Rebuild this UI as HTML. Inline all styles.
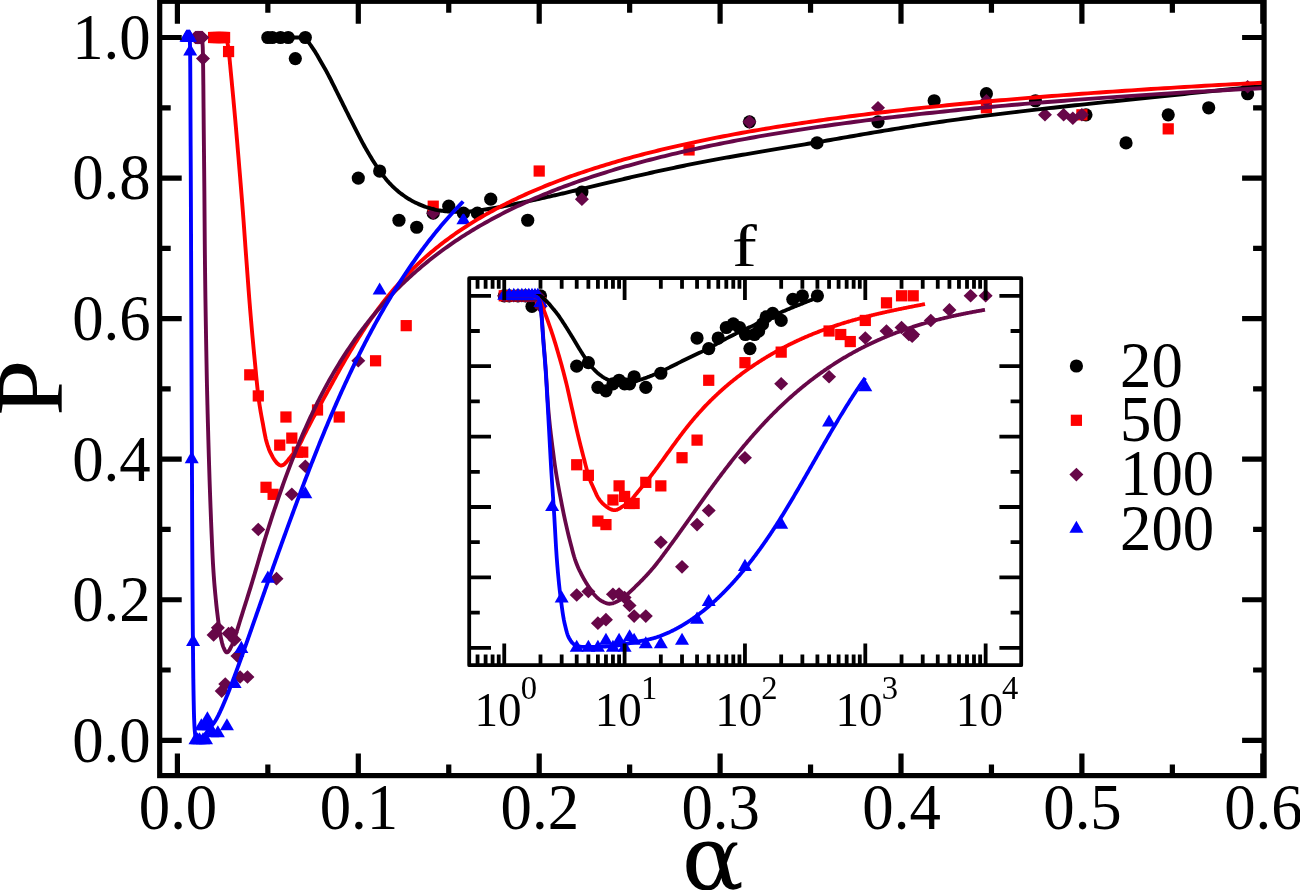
<!DOCTYPE html>
<html><head><meta charset="utf-8"><title>P vs alpha</title>
<style>html,body{margin:0;padding:0;background:#fff;overflow:hidden}svg{display:block}</style>
</head><body>
<svg width="1300" height="890" viewBox="0 0 1300 890">
<rect x="0" y="0" width="1300" height="890" fill="#ffffff"/>
<g fill="#000000"><circle cx="267.85" cy="37.50" r="6.60"/><circle cx="272.26" cy="37.50" r="6.60"/><circle cx="280.53" cy="37.50" r="6.60"/><circle cx="288.18" cy="37.50" r="6.60"/><circle cx="295.33" cy="58.58" r="6.60"/><circle cx="305.32" cy="37.50" r="6.60"/><circle cx="358.30" cy="178.06" r="6.60"/><circle cx="379.65" cy="171.03" r="6.60"/><circle cx="398.96" cy="220.23" r="6.60"/><circle cx="416.71" cy="227.26" r="6.60"/><circle cx="433.23" cy="213.20" r="6.60"/><circle cx="448.75" cy="206.17" r="6.60"/><circle cx="463.43" cy="213.20" r="6.60"/><circle cx="477.39" cy="213.20" r="6.60"/><circle cx="490.73" cy="199.14" r="6.60"/><circle cx="527.71" cy="220.23" r="6.60"/><circle cx="581.90" cy="192.12" r="6.60"/><circle cx="749.46" cy="121.84" r="6.60"/><circle cx="816.98" cy="142.92" r="6.60"/><circle cx="878.02" cy="121.84" r="6.60"/><circle cx="934.16" cy="100.75" r="6.60"/><circle cx="986.41" cy="93.72" r="6.60"/><circle cx="1035.48" cy="100.75" r="6.60"/><circle cx="1085.96" cy="114.81" r="6.60"/><circle cx="1126.05" cy="142.92" r="6.60"/><circle cx="1168.23" cy="114.81" r="6.60"/><circle cx="1208.69" cy="107.78" r="6.60"/><circle cx="1247.62" cy="93.72" r="6.60"/></g>
<g fill="#ff0000"><rect x="207.97" y="31.89" width="11.22" height="11.22"/><rect x="209.74" y="31.89" width="11.22" height="11.22"/><rect x="211.42" y="31.89" width="11.22" height="11.22"/><rect x="213.04" y="31.89" width="11.22" height="11.22"/><rect x="214.60" y="31.89" width="11.22" height="11.22"/><rect x="216.10" y="31.89" width="11.22" height="11.22"/><rect x="217.55" y="31.89" width="11.22" height="11.22"/><rect x="218.96" y="31.89" width="11.22" height="11.22"/><rect x="222.96" y="45.95" width="11.22" height="11.22"/><rect x="244.15" y="369.23" width="11.22" height="11.22"/><rect x="252.69" y="390.32" width="11.22" height="11.22"/><rect x="260.41" y="481.68" width="11.22" height="11.22"/><rect x="267.51" y="488.71" width="11.22" height="11.22"/><rect x="274.12" y="439.51" width="11.22" height="11.22"/><rect x="280.33" y="411.40" width="11.22" height="11.22"/><rect x="286.20" y="432.49" width="11.22" height="11.22"/><rect x="291.79" y="446.54" width="11.22" height="11.22"/><rect x="297.12" y="446.54" width="11.22" height="11.22"/><rect x="311.91" y="404.37" width="11.22" height="11.22"/><rect x="333.59" y="411.40" width="11.22" height="11.22"/><rect x="369.96" y="355.18" width="11.22" height="11.22"/><rect x="400.61" y="320.04" width="11.22" height="11.22"/><rect x="427.62" y="200.56" width="11.22" height="11.22"/><rect x="533.59" y="165.42" width="11.22" height="11.22"/><rect x="683.45" y="144.34" width="11.22" height="11.22"/><rect x="980.80" y="102.17" width="11.22" height="11.22"/><rect x="1076.29" y="109.20" width="11.22" height="11.22"/><rect x="1162.62" y="123.25" width="11.22" height="11.22"/></g>
<g fill="#670748"><path d="M188.49 37.50 L195.49 30.70 L202.49 37.50 L195.49 44.30Z"/><path d="M189.37 37.50 L196.37 30.70 L203.37 37.50 L196.37 44.30Z"/><path d="M190.22 37.50 L197.22 30.70 L204.22 37.50 L197.22 44.30Z"/><path d="M191.03 37.50 L198.03 30.70 L205.03 37.50 L198.03 44.30Z"/><path d="M191.80 37.50 L198.80 30.70 L205.80 37.50 L198.80 44.30Z"/><path d="M192.56 37.50 L199.56 30.70 L206.56 37.50 L199.56 44.30Z"/><path d="M193.28 37.50 L200.28 30.70 L207.28 37.50 L200.28 44.30Z"/><path d="M193.99 37.50 L200.99 30.70 L207.99 37.50 L200.99 44.30Z"/><path d="M194.67 37.50 L201.67 30.70 L208.67 37.50 L201.67 44.30Z"/><path d="M195.34 37.50 L202.34 30.70 L209.34 37.50 L202.34 44.30Z"/><path d="M195.98 58.58 L202.98 51.78 L209.98 58.58 L202.98 65.38Z"/><path d="M206.58 634.88 L213.58 628.08 L220.58 634.88 L213.58 641.68Z"/><path d="M210.85 627.85 L217.85 621.05 L224.85 627.85 L217.85 634.65Z"/><path d="M214.71 691.10 L221.71 684.30 L228.71 691.10 L221.71 697.90Z"/><path d="M218.26 684.08 L225.26 677.28 L232.26 684.08 L225.26 690.88Z"/><path d="M221.57 633.47 L228.57 626.67 L235.57 633.47 L228.57 640.27Z"/><path d="M224.67 632.77 L231.67 625.97 L238.67 632.77 L231.67 639.57Z"/><path d="M227.61 639.80 L234.61 633.00 L241.61 639.80 L234.61 646.60Z"/><path d="M230.40 655.96 L237.40 649.16 L244.40 655.96 L237.40 662.76Z"/><path d="M233.07 677.05 L240.07 670.25 L247.07 677.05 L240.07 683.85Z"/><path d="M240.46 677.05 L247.46 670.25 L254.46 677.05 L247.46 683.85Z"/><path d="M251.30 529.46 L258.30 522.66 L265.30 529.46 L258.30 536.26Z"/><path d="M269.48 578.66 L276.48 571.86 L283.48 578.66 L276.48 585.46Z"/><path d="M284.81 494.32 L291.81 487.52 L298.81 494.32 L291.81 501.12Z"/><path d="M298.32 466.21 L305.32 459.41 L312.32 466.21 L305.32 473.01Z"/><path d="M351.30 360.79 L358.30 353.99 L365.30 360.79 L358.30 367.59Z"/><path d="M426.23 213.20 L433.23 206.40 L440.23 213.20 L433.23 220.00Z"/><path d="M574.90 199.14 L581.90 192.34 L588.90 199.14 L581.90 205.94Z"/><path d="M742.46 121.84 L749.46 115.04 L756.46 121.84 L749.46 128.64Z"/><path d="M871.02 107.78 L878.02 100.98 L885.02 107.78 L878.02 114.58Z"/><path d="M979.41 100.75 L986.41 93.95 L993.41 100.75 L986.41 107.55Z"/><path d="M1037.97 114.81 L1044.97 108.01 L1051.97 114.81 L1044.97 121.61Z"/><path d="M1056.63 114.81 L1063.63 108.01 L1070.63 114.81 L1063.63 121.61Z"/><path d="M1065.81 118.32 L1072.81 111.52 L1079.81 118.32 L1072.81 125.12Z"/><path d="M1074.90 114.81 L1081.90 108.01 L1088.90 114.81 L1081.90 121.61Z"/><path d="M1240.62 86.70 L1247.62 79.90 L1254.62 86.70 L1247.62 93.50Z"/></g>
<g fill="#0000ff"><path d="M186.44 29.42 L179.44 41.54 L193.44 41.54Z"/><path d="M186.89 29.42 L179.89 41.54 L193.89 41.54Z"/><path d="M187.31 29.42 L180.31 41.54 L194.31 41.54Z"/><path d="M187.71 29.42 L180.71 41.54 L194.71 41.54Z"/><path d="M188.10 29.42 L181.10 41.54 L195.10 41.54Z"/><path d="M188.48 29.42 L181.48 41.54 L195.48 41.54Z"/><path d="M188.84 29.42 L181.84 41.54 L195.84 41.54Z"/><path d="M189.19 29.42 L182.19 41.54 L196.19 41.54Z"/><path d="M189.54 29.42 L182.54 41.54 L196.54 41.54Z"/><path d="M189.87 29.42 L182.87 41.54 L196.87 41.54Z"/><path d="M190.19 43.47 L183.19 55.60 L197.19 55.60Z"/><path d="M191.70 451.10 L184.70 463.22 L198.70 463.22Z"/><path d="M193.07 633.83 L186.07 645.95 L200.07 645.95Z"/><path d="M195.49 732.22 L188.49 744.34 L202.49 744.34Z"/><path d="M197.63 732.22 L190.63 744.34 L204.63 744.34Z"/><path d="M199.56 732.22 L192.56 744.34 L206.56 744.34Z"/><path d="M201.33 718.16 L194.33 730.29 L208.33 730.29Z"/><path d="M202.98 732.22 L195.98 744.34 L209.98 744.34Z"/><path d="M204.53 718.16 L197.53 730.29 L211.53 730.29Z"/><path d="M206.00 732.22 L199.00 744.34 L213.00 744.34Z"/><path d="M207.40 711.13 L200.40 723.26 L214.40 723.26Z"/><path d="M208.73 718.16 L201.73 730.29 L215.73 730.29Z"/><path d="M212.43 725.19 L205.43 737.31 L219.43 737.31Z"/><path d="M217.85 725.19 L210.85 737.31 L224.85 737.31Z"/><path d="M226.94 718.16 L219.94 730.29 L233.94 730.29Z"/><path d="M234.61 675.99 L227.61 688.12 L241.61 688.12Z"/><path d="M241.36 640.85 L234.36 652.98 L248.36 652.98Z"/><path d="M267.85 570.57 L260.85 582.70 L274.85 582.70Z"/><path d="M305.32 486.24 L298.32 498.36 L312.32 498.36Z"/><path d="M379.65 282.43 L372.65 294.55 L386.65 294.55Z"/><path d="M463.43 212.15 L456.43 224.27 L470.43 224.27Z"/></g>
<clipPath id="cm"><rect x="159.7" y="1.3" width="1104.4" height="774.3"/></clipPath>
<g clip-path="url(#cm)" fill="none" stroke-width="3.9" stroke-linejoin="round">
<path d="M267.90 37.50 L268.35 37.50 L268.81 37.50 L269.26 37.50 L269.72 37.50 L270.18 37.50 L270.64 37.50 L271.11 37.50 L271.58 37.50 L272.05 37.50 L272.52 37.50 L272.99 37.50 L273.47 37.50 L273.95 37.50 L274.43 37.50 L274.92 37.50 L275.40 37.50 L275.89 37.50 L276.38 37.50 L276.88 37.50 L277.37 37.50 L277.87 37.50 L278.37 37.50 L278.88 37.50 L279.38 37.50 L279.89 37.50 L280.40 37.50 L280.92 37.50 L281.44 37.50 L281.95 37.50 L282.48 37.50 L283.00 37.50 L283.53 37.50 L284.06 37.50 L284.59 37.50 L285.12 37.50 L285.66 37.50 L286.20 37.50 L286.74 37.50 L287.29 37.50 L287.84 37.50 L288.39 37.50 L288.94 37.50 L289.50 37.50 L290.06 37.50 L290.62 37.50 L291.19 37.50 L291.75 37.50 L292.33 37.50 L292.90 37.50 L293.48 37.50 L294.05 37.50 L294.64 37.50 L295.22 37.50 L295.81 37.50 L296.40 37.50 L296.99 37.50 L297.59 37.50 L298.19 37.50 L298.79 37.50 L299.40 37.50 L300.01 37.50 L300.62 37.50 L301.24 37.50 L301.85 37.50 L302.47 37.50 L303.10 37.50 L303.73 37.50 L304.36 37.55 L304.99 37.70 L305.63 38.25 L306.27 39.00 L306.91 39.79 L307.56 40.65 L308.21 41.58 L308.86 42.55 L309.51 43.52 L310.17 44.48 L310.84 45.42 L311.50 46.37 L312.17 47.33 L312.84 48.30 L313.52 49.29 L314.20 50.31 L314.88 51.37 L315.57 52.48 L316.26 53.63 L316.95 54.82 L317.65 56.04 L318.35 57.29 L319.05 58.54 L319.76 59.81 L320.47 61.07 L321.18 62.31 L321.90 63.55 L322.62 64.79 L323.34 66.03 L324.07 67.28 L324.80 68.54 L325.54 69.83 L326.28 71.15 L327.02 72.50 L327.77 73.89 L328.52 75.31 L329.27 76.76 L330.03 78.23 L330.79 79.73 L331.56 81.24 L332.33 82.78 L333.10 84.33 L333.88 85.89 L334.66 87.47 L335.44 89.06 L336.23 90.65 L337.02 92.25 L337.82 93.85 L338.62 95.46 L339.43 97.06 L340.23 98.66 L341.05 100.29 L341.86 101.94 L342.68 103.61 L343.51 105.28 L344.34 106.96 L345.17 108.64 L346.01 110.32 L346.85 112.00 L347.70 113.69 L348.54 115.38 L349.40 117.08 L350.26 118.78 L351.12 120.48 L351.99 122.19 L352.86 123.90 L353.73 125.63 L354.61 127.37 L355.50 129.12 L356.39 130.88 L357.28 132.63 L358.18 134.39 L359.08 136.15 L359.99 137.90 L360.90 139.64 L361.81 141.37 L362.73 143.08 L363.66 144.77 L364.59 146.45 L365.52 148.10 L366.46 149.74 L367.40 151.38 L368.35 153.01 L369.30 154.63 L370.26 156.24 L371.22 157.83 L372.19 159.41 L373.16 160.96 L374.14 162.50 L375.12 164.01 L376.11 165.50 L377.10 166.97 L378.10 168.41 L379.10 169.85 L380.11 171.28 L381.12 172.69 L382.13 174.09 L383.16 175.47 L384.18 176.83 L385.21 178.15 L386.25 179.44 L387.29 180.70 L388.34 181.90 L389.39 183.06 L390.45 184.17 L391.51 185.26 L392.58 186.32 L393.66 187.37 L394.74 188.38 L395.82 189.37 L396.91 190.33 L398.01 191.27 L399.11 192.17 L400.21 193.05 L401.33 193.89 L402.44 194.70 L403.57 195.49 L404.69 196.28 L405.83 197.05 L406.97 197.80 L408.11 198.54 L409.27 199.26 L410.42 199.95 L411.59 200.62 L412.75 201.26 L413.93 201.87 L415.11 202.45 L416.29 203.01 L417.49 203.57 L418.69 204.11 L419.89 204.64 L421.10 205.15 L422.32 205.65 L423.54 206.12 L424.77 206.57 L426.00 206.99 L427.24 207.38 L428.49 207.76 L429.74 208.13 L431.00 208.50 L432.27 208.86 L433.54 209.20 L434.82 209.52 L436.10 209.82 L437.39 210.09 L438.69 210.33 L439.99 210.53 L441.30 210.71 L442.62 210.90 L443.94 211.07 L445.27 211.23 L446.61 211.39 L447.95 211.52 L449.30 211.64 L450.66 211.73 L452.02 211.79 L453.39 211.84 L454.77 211.87 L456.16 211.90 L457.55 211.91 L458.94 211.91 L460.35 211.90 L461.76 211.87 L463.18 211.83 L464.61 211.77 L466.04 211.69 L467.48 211.59 L468.93 211.47 L470.38 211.33 L471.84 211.18 L473.31 211.02 L474.79 210.85 L476.28 210.68 L477.77 210.50 L479.27 210.32 L480.77 210.11 L482.29 209.90 L483.81 209.68 L485.34 209.45 L486.87 209.21 L488.42 208.97 L489.97 208.72 L491.53 208.46 L493.10 208.19 L494.67 207.92 L496.26 207.64 L497.85 207.35 L499.45 207.07 L501.05 206.77 L502.67 206.47 L504.29 206.17 L505.92 205.86 L507.56 205.54 L509.21 205.21 L510.86 204.89 L512.53 204.55 L514.20 204.21 L515.88 203.87 L517.57 203.52 L519.27 203.16 L520.97 202.80 L522.69 202.44 L524.41 202.08 L526.14 201.71 L527.88 201.33 L529.63 200.96 L531.39 200.58 L533.16 200.19 L534.93 199.80 L536.72 199.41 L538.51 199.01 L540.31 198.61 L542.12 198.21 L543.94 197.80 L545.77 197.39 L547.61 196.97 L549.46 196.55 L551.31 196.13 L553.18 195.70 L555.06 195.27 L556.94 194.83 L558.83 194.39 L560.74 193.95 L562.65 193.50 L564.57 193.05 L566.51 192.60 L568.45 192.14 L570.40 191.68 L572.36 191.21 L574.33 190.74 L576.31 190.27 L578.30 189.80 L580.30 189.32 L582.31 188.84 L584.33 188.36 L586.36 187.87 L588.41 187.38 L590.46 186.89 L592.52 186.40 L594.59 185.90 L596.67 185.41 L598.76 184.91 L600.87 184.41 L602.98 183.90 L605.10 183.40 L607.24 182.89 L609.38 182.38 L611.54 181.87 L613.70 181.35 L615.88 180.84 L618.07 180.33 L620.27 179.81 L622.48 179.29 L624.70 178.77 L626.93 178.25 L629.17 177.73 L631.43 177.21 L633.70 176.69 L635.97 176.17 L638.26 175.64 L640.56 175.12 L642.87 174.60 L645.19 174.07 L647.53 173.55 L649.87 173.02 L652.23 172.50 L654.60 171.97 L656.98 171.45 L659.38 170.93 L661.78 170.40 L664.20 169.88 L666.63 169.36 L669.07 168.84 L671.52 168.31 L673.99 167.79 L676.47 167.28 L678.96 166.76 L681.46 166.24 L683.98 165.72 L686.50 165.21 L689.04 164.70 L691.60 164.19 L694.16 163.68 L696.74 163.17 L699.33 162.66 L701.94 162.16 L704.56 161.65 L707.19 161.15 L709.83 160.65 L712.49 160.16 L715.16 159.66 L717.84 159.17 L720.54 158.68 L723.25 158.19 L725.97 157.70 L728.71 157.21 L731.46 156.73 L734.23 156.24 L737.00 155.76 L739.80 155.27 L742.60 154.79 L745.42 154.30 L748.26 153.82 L751.11 153.33 L753.97 152.85 L756.85 152.36 L759.74 151.87 L762.64 151.38 L765.57 150.89 L768.50 150.40 L771.45 149.91 L774.41 149.41 L777.39 148.92 L780.39 148.42 L783.40 147.92 L786.42 147.41 L789.46 146.90 L792.51 146.39 L795.58 145.88 L798.67 145.36 L801.77 144.84 L804.89 144.32 L808.02 143.79 L811.16 143.26 L814.33 142.72 L817.50 142.18 L820.70 141.63 L823.91 141.08 L827.14 140.53 L830.38 139.97 L833.64 139.40 L836.91 138.84 L840.20 138.27 L843.51 137.69 L846.83 137.12 L850.17 136.54 L853.53 135.96 L856.91 135.37 L860.30 134.79 L863.70 134.20 L867.13 133.61 L870.57 133.03 L874.03 132.44 L877.51 131.85 L881.00 131.26 L884.51 130.67 L888.04 130.08 L891.59 129.49 L895.15 128.90 L898.73 128.32 L902.33 127.73 L905.95 127.15 L909.58 126.57 L913.24 125.99 L916.91 125.42 L920.60 124.84 L924.31 124.27 L928.04 123.71 L931.78 123.15 L935.55 122.59 L939.33 122.03 L943.13 121.48 L946.95 120.93 L950.79 120.39 L954.65 119.85 L958.53 119.31 L962.43 118.78 L966.35 118.25 L970.28 117.72 L974.24 117.19 L978.22 116.67 L982.21 116.15 L986.23 115.64 L990.27 115.12 L994.32 114.61 L998.40 114.11 L1002.50 113.60 L1006.61 113.10 L1010.75 112.60 L1014.91 112.10 L1019.09 111.60 L1023.29 111.11 L1027.51 110.62 L1031.75 110.13 L1036.02 109.64 L1040.30 109.15 L1044.61 108.67 L1048.93 108.18 L1053.28 107.70 L1057.65 107.22 L1062.05 106.74 L1066.46 106.26 L1070.90 105.78 L1075.36 105.30 L1079.84 104.82 L1084.34 104.34 L1088.87 103.86 L1093.42 103.38 L1097.99 102.90 L1102.58 102.41 L1107.20 101.93 L1111.84 101.45 L1116.50 100.96 L1121.19 100.47 L1125.90 99.98 L1130.63 99.49 L1135.39 99.00 L1140.17 98.51 L1144.97 98.01 L1149.80 97.51 L1154.65 97.00 L1159.53 96.50 L1164.43 95.99 L1169.36 95.48 L1174.31 94.97 L1179.28 94.45 L1184.28 93.94 L1189.31 93.42 L1194.35 92.90 L1199.43 92.39 L1204.53 91.87 L1209.66 91.35 L1214.81 90.83 L1219.98 90.31 L1225.19 89.79 L1230.41 89.27 L1235.67 88.76 L1240.95 88.24 L1246.26 87.73 L1251.59 87.21 L1256.95 86.70 L1262.34 86.19 L1267.75 85.68 L1273.19 85.18 L1278.66 84.67 L1284.16 84.17 L1289.68 83.67 L1295.23 83.17 L1300.81 82.67 L1306.42 82.17 L1312.05 81.68 L1317.71 81.19 L1323.40 80.70 L1329.12 80.21 L1334.87 79.72 L1340.65 79.23 L1346.45 78.75 L1352.28 78.27 L1358.15 77.79 L1364.04 77.31 L1369.96 76.83 L1375.91 76.35 L1381.89 75.88 L1387.90 75.41 L1393.94 74.94 L1400.01 74.47 L1406.12 74.00 L1412.25 73.54 L1418.41 73.07 L1424.60 72.61 L1430.83 72.15 L1437.08 71.69 L1443.37 71.23 L1449.68 70.78 L1456.03 70.33 L1462.41 69.87 L1468.83 69.42 L1475.27 68.98 L1481.75 68.53 L1488.26 68.08 L1494.80 67.64 L1501.37 67.20 L1507.98 66.76 L1514.62 66.32 L1521.29 65.88 L1528.00 65.44 L1534.74 65.00 L1541.51 64.57 L1548.32 64.14 L1555.16 63.70 L1562.04 63.27 L1568.95 62.84 L1575.89 62.41 L1582.87 61.99 L1589.88 61.56 L1596.93 61.13 L1604.01 60.71 L1611.13 60.28 L1618.29 59.86 L1625.48 59.44 L1632.70 59.02 L1639.97 58.59 L1647.27 58.17 L1654.60 57.75 L1661.97 57.33 L1669.38 56.92 L1676.83 56.50 L1684.31 56.08 L1691.83 55.66 L1699.39 55.25 L1706.98 54.83 L1714.61 54.41 L1722.28 54.00 L1729.99 53.58 L1737.74 53.17 L1745.53 52.75 L1753.35 52.34 L1761.22 51.92 L1769.12 51.51 L1777.06 51.09 L1785.05 50.68 L1793.07 50.27 L1801.13 49.85 L1809.23 49.44 L1817.38 49.02 L1825.56 48.61 L1833.79 48.19 L1842.05 47.78 L1850.36 47.36 L1858.71 46.95 L1867.10 46.53 L1875.53 46.12 L1884.00 45.70 L1892.52 45.28 L1901.08 44.87 L1909.68 44.45 L1918.33 44.03 L1927.01 43.61 L1935.74 43.19 L1944.52 42.77 L1953.34 42.35 L1962.20 41.93" stroke="#000000"/>
<path d="M213.58 37.50 L213.82 37.50 L214.07 37.50 L214.32 37.50 L214.57 37.50 L214.82 37.50 L215.07 37.50 L215.32 37.50 L215.58 37.50 L215.84 37.50 L216.09 37.50 L216.36 37.50 L216.62 37.50 L216.88 37.50 L217.15 37.50 L217.42 37.50 L217.69 37.50 L217.96 37.50 L218.23 37.50 L218.51 37.50 L218.78 37.50 L219.06 37.50 L219.34 37.50 L219.63 37.50 L219.91 37.50 L220.20 37.50 L220.49 37.50 L220.78 37.50 L221.07 37.50 L221.36 37.50 L221.66 37.50 L221.96 37.51 L222.26 37.53 L222.56 37.56 L222.87 37.59 L223.17 37.63 L223.48 37.67 L223.79 37.71 L224.10 37.76 L224.42 37.81 L224.74 37.86 L225.06 37.90 L225.38 38.10 L225.70 38.51 L226.03 39.07 L226.35 39.74 L226.68 40.45 L227.02 41.20 L227.35 42.36 L227.69 43.98 L228.03 45.93 L228.37 48.12 L228.71 50.71 L229.06 53.77 L229.41 57.19 L229.76 60.86 L230.11 64.68 L230.47 68.53 L230.82 72.29 L231.18 76.00 L231.55 79.76 L231.91 83.58 L232.28 87.45 L232.65 91.37 L233.02 95.35 L233.40 99.38 L233.77 103.47 L234.15 107.62 L234.54 111.83 L234.92 116.09 L235.31 120.45 L235.70 124.90 L236.09 129.43 L236.49 134.03 L236.89 138.71 L237.29 143.45 L237.69 148.24 L238.10 153.08 L238.51 157.96 L238.92 162.87 L239.33 167.81 L239.75 172.81 L240.17 177.88 L240.59 183.02 L241.02 188.24 L241.45 193.55 L241.88 198.96 L242.32 204.47 L242.75 210.09 L243.19 215.86 L243.64 221.87 L244.09 228.06 L244.53 234.36 L244.99 240.72 L245.44 247.07 L245.90 253.35 L246.36 259.61 L246.83 265.93 L247.30 272.29 L247.77 278.65 L248.24 285.00 L248.72 291.31 L249.20 297.55 L249.68 303.71 L250.17 309.74 L250.66 315.64 L251.16 321.44 L251.65 327.16 L252.15 332.80 L252.66 338.37 L253.17 343.87 L253.68 349.32 L254.19 354.73 L254.71 360.09 L255.23 365.52 L255.75 371.04 L256.28 376.57 L256.82 382.00 L257.35 387.24 L257.89 392.20 L258.43 396.79 L258.98 400.93 L259.53 404.71 L260.08 408.25 L260.64 411.59 L261.20 414.78 L261.77 417.88 L262.33 420.93 L262.91 423.97 L263.48 427.09 L264.06 430.29 L264.65 433.46 L265.24 436.46 L265.83 439.15 L266.43 441.41 L267.03 443.47 L267.63 445.41 L268.24 447.22 L268.85 448.91 L269.47 450.47 L270.09 451.91 L270.71 453.23 L271.34 454.49 L271.98 455.72 L272.61 456.89 L273.25 458.01 L273.90 459.06 L274.55 460.02 L275.21 460.91 L275.87 461.76 L276.53 462.58 L277.20 463.30 L277.87 463.90 L278.55 464.40 L279.23 464.86 L279.92 465.24 L280.61 465.47 L281.30 465.52 L282.00 465.41 L282.71 465.17 L283.42 464.84 L284.13 464.38 L284.85 463.73 L285.58 462.97 L286.31 462.17 L287.04 461.33 L287.78 460.43 L288.53 459.49 L289.28 458.54 L290.03 457.58 L290.79 456.65 L291.55 455.73 L292.32 454.81 L293.10 453.89 L293.88 452.93 L294.66 451.94 L295.45 450.90 L296.25 449.79 L297.05 448.63 L297.86 447.39 L298.67 446.08 L299.49 444.70 L300.31 443.19 L301.14 441.55 L301.97 439.81 L302.81 438.02 L303.66 436.22 L304.51 434.48 L305.37 432.78 L306.23 431.08 L307.10 429.38 L307.97 427.68 L308.85 425.98 L309.74 424.28 L310.63 422.57 L311.53 420.86 L312.43 419.15 L313.34 417.44 L314.26 415.74 L315.18 414.03 L316.11 412.33 L317.05 410.61 L317.99 408.90 L318.94 407.17 L319.89 405.44 L320.85 403.70 L321.82 401.95 L322.79 400.18 L323.77 398.40 L324.76 396.61 L325.75 394.81 L326.75 392.99 L327.76 391.16 L328.77 389.31 L329.80 387.45 L330.82 385.58 L331.86 383.70 L332.90 381.81 L333.95 379.91 L335.00 378.00 L336.07 376.08 L337.13 374.16 L338.21 372.22 L339.30 370.29 L340.39 368.34 L341.49 366.40 L342.59 364.45 L343.71 362.50 L344.83 360.55 L345.96 358.60 L347.09 356.66 L348.24 354.71 L349.39 352.77 L350.55 350.83 L351.72 348.89 L352.89 346.94 L354.07 345.00 L355.27 343.07 L356.46 341.13 L357.67 339.20 L358.89 337.27 L360.11 335.34 L361.34 333.42 L362.58 331.50 L363.83 329.59 L365.09 327.68 L366.35 325.78 L367.63 323.89 L368.91 322.00 L370.20 320.11 L371.50 318.24 L372.81 316.37 L374.13 314.51 L375.45 312.66 L376.79 310.82 L378.13 308.99 L379.49 307.16 L380.85 305.35 L382.22 303.55 L383.60 301.76 L384.99 299.98 L386.39 298.21 L387.80 296.45 L389.22 294.71 L390.65 292.98 L392.09 291.26 L393.53 289.55 L394.99 287.86 L396.46 286.17 L397.93 284.50 L399.42 282.85 L400.92 281.20 L402.42 279.56 L403.94 277.94 L405.47 276.33 L407.01 274.73 L408.55 273.14 L410.11 271.57 L411.68 270.00 L413.26 268.45 L414.85 266.90 L416.45 265.37 L418.06 263.85 L419.69 262.34 L421.32 260.84 L422.97 259.35 L424.62 257.87 L426.29 256.40 L427.97 254.95 L429.66 253.50 L431.36 252.06 L433.07 250.63 L434.79 249.22 L436.53 247.81 L438.27 246.41 L440.03 245.02 L441.80 243.65 L443.59 242.28 L445.38 240.92 L447.19 239.57 L449.01 238.23 L450.84 236.90 L452.68 235.58 L454.54 234.26 L456.41 232.96 L458.29 231.67 L460.18 230.38 L462.09 229.10 L464.01 227.83 L465.94 226.57 L467.88 225.32 L469.84 224.08 L471.81 222.84 L473.80 221.61 L475.80 220.40 L477.81 219.18 L479.84 217.98 L481.87 216.79 L483.93 215.60 L485.99 214.42 L488.07 213.25 L490.17 212.08 L492.28 210.92 L494.40 209.77 L496.54 208.63 L498.69 207.49 L500.86 206.36 L503.04 205.24 L505.23 204.13 L507.44 203.02 L509.67 201.92 L511.91 200.82 L514.16 199.73 L516.43 198.65 L518.72 197.58 L521.02 196.51 L523.34 195.45 L525.67 194.39 L528.02 193.34 L530.38 192.30 L532.76 191.26 L535.16 190.23 L537.57 189.21 L540.00 188.19 L542.44 187.18 L544.90 186.18 L547.38 185.18 L549.88 184.18 L552.39 183.20 L554.92 182.22 L557.46 181.24 L560.02 180.27 L562.60 179.31 L565.20 178.35 L567.81 177.40 L570.45 176.45 L573.10 175.51 L575.76 174.58 L578.45 173.65 L581.15 172.72 L583.88 171.80 L586.62 170.89 L589.38 169.98 L592.15 169.08 L594.95 168.18 L597.77 167.29 L600.60 166.40 L603.45 165.52 L606.33 164.65 L609.22 163.77 L612.13 162.91 L615.06 162.05 L618.01 161.19 L620.98 160.34 L623.97 159.49 L626.98 158.65 L630.01 157.81 L633.06 156.98 L636.14 156.15 L639.23 155.33 L642.34 154.51 L645.48 153.70 L648.63 152.89 L651.81 152.09 L655.01 151.29 L658.23 150.49 L661.47 149.70 L664.74 148.92 L668.02 148.14 L671.33 147.36 L674.66 146.59 L678.01 145.83 L681.39 145.06 L684.78 144.31 L688.21 143.55 L691.65 142.81 L695.12 142.06 L698.61 141.32 L702.12 140.59 L705.66 139.86 L709.22 139.13 L712.81 138.41 L716.42 137.69 L720.05 136.98 L723.71 136.27 L727.39 135.56 L731.10 134.86 L734.83 134.17 L738.59 133.47 L742.38 132.79 L746.18 132.10 L750.02 131.42 L753.88 130.75 L757.77 130.08 L761.68 129.41 L765.62 128.74 L769.58 128.09 L773.58 127.43 L777.60 126.78 L781.64 126.13 L785.72 125.49 L789.82 124.85 L793.95 124.21 L798.10 123.58 L802.29 122.95 L806.50 122.33 L810.74 121.71 L815.01 121.09 L819.31 120.48 L823.64 119.87 L828.00 119.27 L832.38 118.67 L836.80 118.07 L841.25 117.48 L845.72 116.89 L850.23 116.30 L854.76 115.72 L859.33 115.14 L863.93 114.56 L868.56 113.99 L873.22 113.42 L877.91 112.86 L882.63 112.30 L887.39 111.74 L892.17 111.18 L896.99 110.63 L901.84 110.09 L906.73 109.54 L911.64 109.00 L916.59 108.46 L921.58 107.93 L926.60 107.40 L931.65 106.87 L936.73 106.35 L941.85 105.83 L947.01 105.31 L952.19 104.79 L957.42 104.28 L962.68 103.77 L967.97 103.27 L973.30 102.77 L978.67 102.27 L984.07 101.77 L989.51 101.28 L994.98 100.79 L1000.50 100.30 L1006.05 99.82 L1011.63 99.34 L1017.26 98.86 L1022.92 98.39 L1028.62 97.92 L1034.36 97.45 L1040.14 96.98 L1045.95 96.52 L1051.81 96.06 L1057.71 95.60 L1063.64 95.15 L1069.62 94.70 L1075.63 94.25 L1081.69 93.80 L1087.78 93.36 L1093.92 92.92 L1100.10 92.48 L1106.32 92.04 L1112.58 91.61 L1118.89 91.18 L1125.24 90.75 L1131.63 90.33 L1138.06 89.90 L1144.54 89.48 L1151.06 89.07 L1157.62 88.65 L1164.23 88.24 L1170.89 87.83 L1177.58 87.42 L1184.33 87.02 L1191.12 86.61 L1197.95 86.21 L1204.83 85.81 L1211.76 85.42 L1218.73 85.03 L1225.75 84.63 L1232.82 84.25 L1239.94 83.86 L1247.10 83.47 L1254.31 83.09 L1261.57 82.71 L1268.88 82.33 L1276.24 81.96 L1283.65 81.58 L1291.11 81.21 L1298.62 80.84 L1306.18 80.48 L1313.79 80.11 L1321.45 79.75 L1329.16 79.39 L1336.93 79.03 L1344.75 78.67 L1352.62 78.31 L1360.54 77.96 L1368.52 77.61 L1376.55 77.26 L1384.63 76.91 L1392.77 76.56 L1400.97 76.22 L1409.21 75.88 L1417.52 75.54 L1425.88 75.20 L1434.30 74.86 L1442.77 74.52 L1451.30 74.19 L1459.89 73.86 L1468.54 73.53 L1477.24 73.20 L1486.01 72.87 L1494.83 72.55 L1503.71 72.22 L1512.65 71.90 L1521.66 71.58 L1530.72 71.26 L1539.84 70.94 L1549.03 70.62 L1558.28 70.31 L1567.59 69.99 L1576.96 69.68 L1586.40 69.37 L1595.90 69.06 L1605.46 68.75 L1615.09 68.44 L1624.78 68.14 L1634.54 67.83 L1644.36 67.53 L1654.25 67.23 L1664.21 66.93 L1674.24 66.63 L1684.33 66.33 L1694.49 66.03 L1704.72 65.74 L1715.01 65.44 L1725.38 65.15 L1735.82 64.85 L1746.32 64.56 L1756.90 64.27 L1767.55 63.98 L1778.27 63.69 L1789.07 63.40 L1799.93 63.12 L1810.87 62.83 L1821.88 62.55 L1832.97 62.26 L1844.13 61.98 L1855.37 61.70 L1866.68 61.41 L1878.07 61.13 L1889.54 60.85 L1901.08 60.57 L1912.70 60.29 L1924.40 60.02 L1936.18 59.74 L1948.04 59.46 L1959.98 59.19 L1972.00 58.91 L1984.10 58.64 L1996.28 58.36 L2008.54 58.09 L2020.89 57.82 L2033.31 57.54 L2045.83 57.27 L2058.42 57.00 L2071.11 56.73 L2083.87 56.46 L2096.73 56.19 L2109.67 55.92 L2122.70 55.65 L2135.81 55.38 L2149.02 55.11 L2162.31 54.84 L2175.69 54.57 L2189.16 54.31 L2202.73 54.04" stroke="#ff0000"/>
<path d="M195.49 37.50 L195.63 37.50 L195.77 37.50 L195.91 37.50 L196.05 37.50 L196.20 37.50 L196.34 37.50 L196.49 37.50 L196.64 37.50 L196.78 37.50 L196.93 37.50 L197.08 37.50 L197.24 37.50 L197.39 37.50 L197.54 37.50 L197.70 37.50 L197.85 37.50 L198.01 37.50 L198.17 37.50 L198.33 37.50 L198.49 37.50 L198.65 37.50 L198.82 37.50 L198.98 37.50 L199.15 37.50 L199.32 37.50 L199.49 37.50 L199.66 37.51 L199.83 37.53 L200.00 37.55 L200.18 37.58 L200.35 37.62 L200.53 37.66 L200.71 37.71 L200.89 37.75 L201.07 37.80 L201.25 37.85 L201.43 37.90 L201.62 38.15 L201.81 38.78 L201.99 39.63 L202.18 40.53 L202.37 41.68 L202.57 44.26 L202.76 47.72 L202.96 54.86 L203.15 67.60 L203.35 84.87 L203.55 107.76 L203.75 129.88 L203.96 149.57 L204.16 169.26 L204.37 191.01 L204.57 217.47 L204.78 244.05 L204.99 265.06 L205.21 282.65 L205.42 298.21 L205.64 312.36 L205.86 325.61 L206.07 338.25 L206.30 350.54 L206.52 362.81 L206.74 374.65 L206.97 385.50 L207.20 395.42 L207.43 404.87 L207.66 413.95 L207.89 422.73 L208.13 431.30 L208.36 439.75 L208.60 448.14 L208.84 456.41 L209.08 464.52 L209.33 472.41 L209.57 480.04 L209.82 487.35 L210.07 494.47 L210.32 501.44 L210.58 508.26 L210.83 514.94 L211.09 521.47 L211.35 527.86 L211.61 534.10 L211.88 540.23 L212.14 546.36 L212.41 552.34 L212.68 557.98 L212.95 563.12 L213.23 567.67 L213.50 571.93 L213.78 575.96 L214.06 579.76 L214.34 583.35 L214.63 586.72 L214.92 589.93 L215.20 593.06 L215.50 596.14 L215.79 599.16 L216.09 602.10 L216.38 604.97 L216.68 607.76 L216.99 610.46 L217.29 613.08 L217.60 615.60 L217.91 618.10 L218.22 620.60 L218.54 623.07 L218.85 625.49 L219.17 627.82 L219.49 630.04 L219.82 632.12 L220.15 634.04 L220.47 635.76 L220.81 637.36 L221.14 638.91 L221.48 640.41 L221.82 641.84 L222.16 643.19 L222.51 644.45 L222.85 645.60 L223.20 646.63 L223.56 647.53 L223.91 648.31 L224.27 649.09 L224.63 649.85 L225.00 650.56 L225.36 651.20 L225.73 651.73 L226.11 652.11 L226.48 652.33 L226.86 652.37 L227.24 652.30 L227.62 652.12 L228.01 651.84 L228.40 651.47 L228.79 651.01 L229.19 650.42 L229.59 649.74 L229.99 648.99 L230.40 648.22 L230.81 647.44 L231.22 646.67 L231.63 645.88 L232.05 645.04 L232.47 644.15 L232.90 643.20 L233.32 642.16 L233.75 640.99 L234.19 639.70 L234.63 638.32 L235.07 636.88 L235.51 635.41 L235.96 633.95 L236.41 632.51 L236.87 631.05 L237.32 629.58 L237.79 628.10 L238.25 626.60 L238.72 625.09 L239.19 623.56 L239.67 622.03 L240.15 620.49 L240.63 618.93 L241.12 617.37 L241.61 615.80 L242.11 614.22 L242.61 612.63 L243.11 611.03 L243.61 609.43 L244.12 607.81 L244.64 606.19 L245.16 604.55 L245.68 602.90 L246.21 601.24 L246.74 599.56 L247.27 597.86 L247.81 596.15 L248.35 594.42 L248.90 592.68 L249.45 590.91 L250.00 589.12 L250.56 587.31 L251.13 585.47 L251.70 583.61 L252.27 581.73 L252.85 579.81 L253.43 577.88 L254.01 575.92 L254.60 573.94 L255.20 571.93 L255.80 569.90 L256.40 567.85 L257.01 565.78 L257.63 563.69 L258.24 561.58 L258.87 559.46 L259.49 557.32 L260.13 555.16 L260.76 553.00 L261.41 550.83 L262.05 548.65 L262.71 546.47 L263.36 544.29 L264.03 542.10 L264.69 539.91 L265.37 537.72 L266.05 535.53 L266.73 533.35 L267.42 531.16 L268.11 528.97 L268.81 526.77 L269.51 524.57 L270.22 522.36 L270.94 520.15 L271.66 517.93 L272.39 515.71 L273.12 513.48 L273.86 511.25 L274.60 509.01 L275.35 506.77 L276.10 504.53 L276.87 502.28 L277.63 500.03 L278.40 497.77 L279.18 495.52 L279.97 493.26 L280.76 491.00 L281.55 488.74 L282.36 486.47 L283.17 484.21 L283.98 481.94 L284.80 479.67 L285.63 477.41 L286.47 475.14 L287.31 472.87 L288.15 470.60 L289.01 468.34 L289.87 466.07 L290.73 463.81 L291.61 461.54 L292.49 459.28 L293.37 457.02 L294.27 454.76 L295.17 452.51 L296.08 450.26 L296.99 448.01 L297.91 445.76 L298.84 443.52 L299.78 441.28 L300.72 439.04 L301.67 436.81 L302.63 434.58 L303.59 432.36 L304.57 430.14 L305.55 427.92 L306.53 425.71 L307.53 423.50 L308.53 421.30 L309.54 419.10 L310.56 416.91 L311.59 414.73 L312.62 412.54 L313.66 410.37 L314.71 408.20 L315.77 406.03 L316.84 403.88 L317.91 401.72 L319.00 399.58 L320.09 397.44 L321.19 395.31 L322.30 393.18 L323.41 391.06 L324.54 388.95 L325.67 386.85 L326.82 384.75 L327.97 382.66 L329.13 380.57 L330.30 378.49 L331.48 376.43 L332.66 374.36 L333.86 372.31 L335.07 370.26 L336.28 368.22 L337.51 366.18 L338.74 364.16 L339.98 362.14 L341.24 360.13 L342.50 358.12 L343.77 356.12 L345.05 354.13 L346.35 352.15 L347.65 350.18 L348.96 348.21 L350.28 346.25 L351.61 344.30 L352.96 342.36 L354.31 340.42 L355.67 338.49 L357.05 336.57 L358.43 334.66 L359.83 332.76 L361.23 330.86 L362.65 328.97 L364.08 327.09 L365.52 325.22 L366.97 323.35 L368.43 321.49 L369.90 319.65 L371.38 317.81 L372.88 315.97 L374.39 314.15 L375.90 312.33 L377.43 310.53 L378.98 308.73 L380.53 306.94 L382.09 305.16 L383.67 303.38 L385.26 301.62 L386.86 299.86 L388.48 298.11 L390.11 296.37 L391.74 294.64 L393.40 292.92 L395.06 291.21 L396.74 289.50 L398.43 287.81 L400.13 286.12 L401.85 284.44 L403.58 282.77 L405.32 281.11 L407.08 279.46 L408.85 277.82 L410.63 276.19 L412.43 274.56 L414.24 272.95 L416.07 271.34 L417.91 269.74 L419.76 268.15 L421.63 266.57 L423.51 265.00 L425.41 263.43 L427.32 261.88 L429.25 260.33 L431.19 258.79 L433.14 257.26 L435.11 255.74 L437.10 254.23 L439.10 252.72 L441.12 251.23 L443.15 249.74 L445.20 248.26 L447.26 246.79 L449.34 245.33 L451.44 243.87 L453.55 242.42 L455.68 240.99 L457.82 239.56 L459.99 238.13 L462.16 236.72 L464.36 235.31 L466.57 233.92 L468.80 232.53 L471.04 231.14 L473.31 229.77 L475.59 228.40 L477.89 227.04 L480.20 225.69 L482.54 224.35 L484.89 223.02 L487.26 221.69 L489.65 220.37 L492.05 219.06 L494.48 217.75 L496.92 216.45 L499.38 215.17 L501.87 213.88 L504.37 212.61 L506.89 211.34 L509.43 210.08 L511.99 208.83 L514.56 207.59 L517.16 206.35 L519.78 205.12 L522.42 203.90 L525.08 202.68 L527.76 201.48 L530.46 200.28 L533.18 199.08 L535.92 197.90 L538.69 196.72 L541.47 195.55 L544.28 194.38 L547.10 193.22 L549.95 192.07 L552.82 190.93 L555.72 189.79 L558.63 188.66 L561.57 187.54 L564.53 186.42 L567.52 185.31 L570.52 184.21 L573.55 183.12 L576.61 182.03 L579.68 180.95 L582.78 179.87 L585.91 178.80 L589.06 177.74 L592.23 176.68 L595.43 175.64 L598.65 174.59 L601.90 173.56 L605.17 172.53 L608.46 171.51 L611.79 170.49 L615.13 169.48 L618.51 168.48 L621.91 167.48 L625.33 166.49 L628.79 165.51 L632.26 164.53 L635.77 163.56 L639.30 162.60 L642.86 161.64 L646.45 160.69 L650.07 159.74 L653.71 158.80 L657.38 157.87 L661.08 156.94 L664.81 156.02 L668.56 155.10 L672.35 154.19 L676.16 153.29 L680.01 152.39 L683.88 151.50 L687.79 150.62 L691.72 149.74 L695.68 148.86 L699.68 147.99 L703.70 147.13 L707.76 146.28 L711.85 145.43 L715.97 144.58 L720.12 143.74 L724.30 142.91 L728.51 142.08 L732.76 141.26 L737.04 140.44 L741.36 139.63 L745.70 138.83 L750.08 138.03 L754.50 137.23 L758.94 136.44 L763.43 135.66 L767.94 134.88 L772.49 134.11 L777.08 133.34 L781.70 132.58 L786.36 131.82 L791.05 131.07 L795.78 130.33 L800.55 129.59 L805.35 128.85 L810.19 128.12 L815.07 127.39 L819.98 126.67 L824.94 125.96 L829.93 125.25 L834.96 124.54 L840.02 123.84 L845.13 123.15 L850.28 122.46 L855.46 121.77 L860.69 121.09 L865.96 120.42 L871.26 119.75 L876.61 119.08 L882.00 118.42 L887.43 117.77 L892.90 117.11 L898.42 116.47 L903.97 115.83 L909.57 115.19 L915.22 114.56 L920.90 113.93 L926.63 113.31 L932.41 112.69 L938.23 112.07 L944.09 111.46 L950.00 110.86 L955.96 110.26 L961.96 109.66 L968.00 109.07 L974.10 108.48 L980.24 107.90 L986.42 107.32 L992.66 106.74 L998.94 106.17 L1005.27 105.61 L1011.66 105.05 L1018.09 104.49 L1024.56 103.93 L1031.09 103.38 L1037.67 102.84 L1044.30 102.30 L1050.99 101.76 L1057.72 101.23 L1064.50 100.70 L1071.34 100.17 L1078.23 99.65 L1085.17 99.13 L1092.17 98.62 L1099.22 98.11 L1106.32 97.60 L1113.48 97.10 L1120.70 96.60 L1127.97 96.11 L1135.30 95.62 L1142.68 95.13 L1150.12 94.65 L1157.61 94.17 L1165.17 93.69 L1172.78 93.22 L1180.45 92.75 L1188.19 92.29 L1195.98 91.82 L1203.83 91.36 L1211.74 90.91 L1219.71 90.46 L1227.74 90.01 L1235.84 89.56 L1244.00 89.12 L1252.22 88.69 L1260.50 88.25 L1268.85 87.82 L1277.26 87.39 L1285.74 86.97 L1294.28 86.54 L1302.89 86.12 L1311.56 85.71 L1320.30 85.30 L1329.11 84.89 L1337.99 84.48 L1346.93 84.08 L1355.95 83.68 L1365.03 83.28 L1374.18 82.88 L1383.41 82.49 L1392.70 82.10 L1402.07 81.72 L1411.51 81.33 L1421.02 80.95 L1430.60 80.58 L1440.26 80.20 L1450.00 79.83 L1459.80 79.46 L1469.69 79.09 L1479.65 78.73 L1489.68 78.37 L1499.80 78.01 L1509.99 77.65 L1520.26 77.30 L1530.61 76.95 L1541.04 76.60 L1551.55 76.25 L1562.14 75.91 L1572.81 75.57 L1583.57 75.23 L1594.41 74.89 L1605.33 74.56 L1616.33 74.23 L1627.42 73.90 L1638.60 73.57 L1649.86 73.24 L1661.21 72.92 L1672.65 72.60 L1684.17 72.28 L1695.78 71.96 L1707.49 71.65 L1719.28 71.34 L1731.16 71.03 L1743.14 70.72 L1755.21 70.41 L1767.37 70.11 L1779.62 69.80 L1791.97 69.50 L1804.41 69.20 L1816.95 68.91 L1829.59 68.61 L1842.32 68.32 L1855.16 68.03 L1868.09 67.74 L1881.12 67.45 L1894.25 67.16 L1907.48 66.88 L1920.81 66.59 L1934.25 66.31 L1947.79 66.03 L1961.44 65.75 L1975.19 65.48" stroke="#670748"/>
<path d="M186.44 37.50 L186.50 37.50 L186.55 37.50 L186.60 37.50 L186.66 37.50 L186.71 37.50 L186.76 37.50 L186.82 37.50 L186.87 37.50 L186.93 37.50 L186.98 37.50 L187.04 37.50 L187.09 37.50 L187.15 37.50 L187.21 37.50 L187.26 37.50 L187.32 37.50 L187.38 37.50 L187.43 37.50 L187.49 37.50 L187.55 37.50 L187.61 37.50 L187.67 37.50 L187.73 37.50 L187.79 37.50 L187.85 37.50 L187.91 37.50 L187.97 37.50 L188.03 37.50 L188.09 37.50 L188.15 37.50 L188.21 37.50 L188.28 37.50 L188.34 37.50 L188.40 37.50 L188.47 37.50 L188.53 37.51 L188.60 37.52 L188.66 37.54 L188.73 37.56 L188.79 37.58 L188.86 37.61 L188.92 37.64 L188.99 37.68 L189.06 37.71 L189.12 37.74 L189.19 37.78 L189.26 37.82 L189.33 37.85 L189.40 37.89 L189.47 37.98 L189.54 38.30 L189.61 38.81 L189.68 39.44 L189.75 40.12 L189.82 40.78 L189.89 41.82 L189.96 43.84 L190.04 46.48 L190.11 49.95 L190.18 57.18 L190.26 67.32 L190.33 79.85 L190.41 96.53 L190.48 114.62 L190.56 131.03 L190.63 145.71 L190.71 160.06 L190.79 175.28 L190.86 192.54 L190.94 211.94 L191.02 232.81 L191.10 254.47 L191.18 276.25 L191.26 297.82 L191.34 320.12 L191.42 342.63 L191.50 364.65 L191.58 385.44 L191.66 404.50 L191.74 422.35 L191.83 439.84 L191.91 457.82 L192.00 477.24 L192.08 498.38 L192.16 519.97 L192.25 540.65 L192.34 559.05 L192.42 574.49 L192.51 588.66 L192.60 601.78 L192.68 613.87 L192.77 624.97 L192.86 635.09 L192.95 644.37 L193.04 653.49 L193.13 662.35 L193.22 670.73 L193.31 678.40 L193.41 685.14 L193.50 690.74 L193.59 695.88 L193.68 700.87 L193.78 705.60 L193.87 709.95 L193.97 713.82 L194.06 717.10 L194.16 719.66 L194.26 721.79 L194.36 723.85 L194.45 725.80 L194.55 727.60 L194.65 729.20 L194.75 730.56 L194.85 731.64 L194.95 732.55 L195.05 733.49 L195.16 734.42 L195.26 735.28 L195.36 736.04 L195.47 736.65 L195.57 737.07 L195.67 737.28 L195.78 737.45 L195.89 737.62 L195.99 737.79 L196.10 737.96 L196.21 738.11 L196.32 738.25 L196.43 738.38 L196.54 738.49 L196.65 738.58 L196.76 738.65 L196.87 738.69 L196.98 738.70 L197.10 738.70 L197.21 738.70 L197.33 738.69 L197.44 738.69 L197.56 738.69 L197.67 738.68 L197.79 738.68 L197.91 738.67 L198.03 738.66 L198.15 738.66 L198.27 738.65 L198.39 738.64 L198.51 738.62 L198.63 738.61 L198.75 738.59 L198.88 738.57 L199.00 738.55 L199.12 738.53 L199.25 738.51 L199.38 738.48 L199.50 738.45 L199.63 738.42 L199.76 738.38 L199.89 738.34 L200.02 738.30 L200.15 738.25 L200.28 738.20 L200.41 738.15 L200.55 738.10 L200.68 738.04 L200.82 737.98 L200.95 737.91 L201.09 737.84 L201.22 737.77 L201.36 737.70 L201.50 737.62 L201.64 737.54 L201.78 737.46 L201.92 737.38 L202.06 737.29 L202.20 737.20 L202.35 737.11 L202.49 737.01 L202.64 736.92 L202.78 736.82 L202.93 736.71 L203.08 736.61 L203.23 736.50 L203.38 736.39 L203.53 736.28 L203.68 736.16 L203.83 736.02 L203.98 735.87 L204.14 735.71 L204.29 735.53 L204.45 735.35 L204.60 735.16 L204.76 734.95 L204.92 734.75 L205.08 734.53 L205.24 734.32 L205.40 734.09 L205.56 733.87 L205.72 733.65 L205.89 733.42 L206.05 733.20 L206.22 732.97 L206.38 732.74 L206.55 732.50 L206.72 732.26 L206.89 732.01 L207.06 731.76 L207.23 731.50 L207.40 731.24 L207.58 730.98 L207.75 730.71 L207.93 730.45 L208.10 730.18 L208.28 729.92 L208.46 729.66 L208.64 729.40 L208.82 729.14 L209.00 728.89 L209.18 728.65 L209.37 728.41 L209.55 728.17 L209.74 727.94 L209.92 727.72 L210.11 727.50 L210.30 727.28 L210.49 727.06 L210.68 726.84 L210.88 726.63 L211.07 726.41 L211.26 726.20 L211.46 725.98 L211.66 725.76 L211.85 725.53 L212.05 725.30 L212.25 725.07 L212.46 724.83 L212.66 724.59 L212.86 724.33 L213.07 724.07 L213.27 723.81 L213.48 723.53 L213.69 723.25 L213.90 722.96 L214.11 722.66 L214.32 722.35 L214.54 722.04 L214.75 721.72 L214.97 721.39 L215.18 721.05 L215.40 720.71 L215.62 720.35 L215.84 719.99 L216.06 719.62 L216.29 719.24 L216.51 718.84 L216.74 718.44 L216.97 718.03 L217.20 717.61 L217.43 717.18 L217.66 716.73 L217.89 716.28 L218.12 715.81 L218.36 715.34 L218.60 714.87 L218.83 714.38 L219.07 713.89 L219.31 713.39 L219.56 712.88 L219.80 712.37 L220.05 711.85 L220.29 711.32 L220.54 710.79 L220.79 710.25 L221.04 709.70 L221.29 709.15 L221.55 708.58 L221.80 708.01 L222.06 707.44 L222.32 706.86 L222.58 706.26 L222.84 705.67 L223.10 705.06 L223.36 704.45 L223.63 703.83 L223.90 703.21 L224.17 702.57 L224.44 701.93 L224.71 701.29 L224.98 700.63 L225.26 699.97 L225.53 699.30 L225.81 698.63 L226.09 697.94 L226.37 697.25 L226.66 696.56 L226.94 695.85 L227.23 695.14 L227.52 694.42 L227.81 693.70 L228.10 692.97 L228.39 692.23 L228.69 691.48 L228.98 690.73 L229.28 689.96 L229.58 689.20 L229.88 688.42 L230.18 687.64 L230.49 686.85 L230.80 686.05 L231.11 685.25 L231.42 684.43 L231.73 683.62 L232.04 682.79 L232.36 681.96 L232.68 681.12 L233.00 680.27 L233.32 679.41 L233.64 678.55 L233.97 677.68 L234.29 676.81 L234.62 675.92 L234.95 675.03 L235.29 674.13 L235.62 673.23 L235.96 672.31 L236.29 671.39 L236.64 670.47 L236.98 669.53 L237.32 668.59 L237.67 667.64 L238.02 666.68 L238.37 665.72 L238.72 664.75 L239.07 663.77 L239.43 662.79 L239.79 661.79 L240.15 660.79 L240.51 659.79 L240.88 658.77 L241.25 657.75 L241.61 656.72 L241.99 655.68 L242.36 654.64 L242.73 653.59 L243.11 652.53 L243.49 651.46 L243.87 650.39 L244.26 649.31 L244.64 648.22 L245.03 647.12 L245.42 646.02 L245.82 644.91 L246.21 643.79 L246.61 642.67 L247.01 641.54 L247.41 640.40 L247.82 639.25 L248.23 638.09 L248.64 636.93 L249.05 635.76 L249.46 634.59 L249.88 633.40 L250.30 632.21 L250.72 631.01 L251.14 629.80 L251.57 628.59 L252.00 627.37 L252.43 626.14 L252.86 624.90 L253.30 623.66 L253.74 622.41 L254.18 621.15 L254.62 619.88 L255.07 618.61 L255.52 617.33 L255.97 616.04 L256.42 614.75 L256.88 613.44 L257.34 612.13 L257.80 610.81 L258.27 609.49 L258.74 608.15 L259.21 606.81 L259.68 605.47 L260.15 604.11 L260.63 602.75 L261.11 601.38 L261.60 600.00 L262.08 598.61 L262.57 597.22 L263.07 595.82 L263.56 594.41 L264.06 592.99 L264.56 591.57 L265.06 590.14 L265.57 588.70 L266.08 587.25 L266.59 585.80 L267.11 584.34 L267.63 582.87 L268.15 581.39 L268.67 579.91 L269.20 578.42 L269.73 576.92 L270.27 575.41 L270.80 573.90 L271.34 572.37 L271.89 570.84 L272.43 569.31 L272.98 567.76 L273.54 566.21 L274.09 564.65 L274.65 563.08 L275.21 561.51 L275.78 559.92 L276.35 558.33 L276.92 556.74 L277.49 555.13 L278.07 553.52 L278.65 551.90 L279.24 550.27 L279.83 548.63 L280.42 546.99 L281.02 545.33 L281.62 543.67 L282.22 542.01 L282.82 540.33 L283.43 538.65 L284.05 536.96 L284.66 535.26 L285.28 533.56 L285.91 531.84 L286.53 530.12 L287.17 528.39 L287.80 526.66 L288.44 524.91 L289.08 523.16 L289.73 521.40 L290.38 519.63 L291.03 517.86 L291.69 516.08 L292.35 514.28 L293.01 512.49 L293.68 510.68 L294.35 508.87 L295.03 507.04 L295.71 505.22 L296.39 503.38 L297.08 501.53 L297.77 499.68 L298.47 497.82 L299.17 495.95 L299.87 494.08 L300.58 492.19 L301.29 490.30 L302.01 488.41 L302.73 486.50 L303.45 484.59 L304.18 482.67 L304.91 480.75 L305.65 478.82 L306.39 476.88 L307.14 474.94 L307.89 472.99 L308.64 471.03 L309.40 469.07 L310.17 467.10 L310.93 465.13 L311.70 463.15 L312.48 461.17 L313.26 459.18 L314.05 457.18 L314.84 455.18 L315.63 453.18 L316.43 451.17 L317.24 449.16 L318.04 447.14 L318.86 445.11 L319.67 443.09 L320.50 441.05 L321.32 439.02 L322.16 436.98 L322.99 434.93 L323.84 432.89 L324.68 430.84 L325.53 428.78 L326.39 426.72 L327.25 424.66 L328.12 422.60 L328.99 420.53 L329.87 418.46 L330.75 416.38 L331.63 414.31 L332.52 412.23 L333.42 410.15 L334.32 408.06 L335.23 405.98 L336.14 403.89 L337.06 401.80 L337.98 399.71 L338.91 397.61 L339.85 395.52 L340.79 393.42 L341.73 391.32 L342.68 389.22 L343.64 387.12 L344.60 385.02 L345.56 382.92 L346.54 380.82 L347.51 378.71 L348.50 376.61 L349.49 374.50 L350.48 372.40 L351.48 370.29 L352.49 368.19 L353.50 366.08 L354.52 363.97 L355.54 361.87 L356.57 359.76 L357.61 357.66 L358.65 355.56 L359.70 353.45 L360.75 351.35 L361.81 349.25 L362.88 347.15 L363.95 345.05 L365.03 342.95 L366.11 340.86 L367.20 338.76 L368.30 336.67 L369.41 334.58 L370.52 332.49 L371.63 330.41 L372.76 328.32 L373.88 326.24 L375.02 324.16 L376.16 322.08 L377.31 320.01 L378.47 317.93 L379.63 315.87 L380.80 313.80 L381.98 311.74 L383.16 309.68 L384.35 307.62 L385.54 305.57 L386.75 303.52 L387.96 301.47 L389.18 299.43 L390.40 297.39 L391.63 295.36 L392.87 293.33 L394.12 291.31 L395.37 289.28 L396.63 287.27 L397.90 285.26 L399.17 283.25 L400.45 281.25 L401.74 279.25 L403.04 277.26 L404.34 275.27 L405.66 273.29 L406.98 271.32 L408.30 269.35 L409.64 267.38 L410.98 265.43 L412.33 263.47 L413.69 261.53 L415.06 259.59 L416.43 257.66 L417.81 255.73 L419.20 253.81 L420.60 251.89 L422.00 249.99 L423.42 248.09 L424.84 246.19 L426.27 244.31 L427.71 242.43 L429.16 240.56 L430.61 238.70 L432.08 236.84 L433.55 234.99 L435.03 233.15 L436.52 231.32 L438.02 229.50 L439.52 227.68 L441.04 225.87 L442.56 224.07 L444.10 222.28 L445.64 220.50 L447.19 218.73 L448.75 216.96 L450.32 215.21 L451.90 213.46 L453.48 211.73 L455.08 210.00 L456.69 208.28 L458.30 206.58 L459.92 204.88 L461.56 203.19 L463.20 201.51" stroke="#0000ff"/>
</g>
<g fill="#000000"><circle cx="504.25" cy="295.80" r="6.60"/><circle cx="509.23" cy="295.80" r="6.60"/><circle cx="517.96" cy="295.80" r="6.60"/><circle cx="525.44" cy="295.80" r="6.60"/><circle cx="531.98" cy="306.36" r="6.60"/><circle cx="540.48" cy="295.80" r="6.60"/><circle cx="576.71" cy="366.20" r="6.60"/><circle cx="588.37" cy="362.68" r="6.60"/><circle cx="597.90" cy="387.32" r="6.60"/><circle cx="605.96" cy="390.84" r="6.60"/><circle cx="612.94" cy="383.80" r="6.60"/><circle cx="619.09" cy="380.28" r="6.60"/><circle cx="624.60" cy="383.80" r="6.60"/><circle cx="629.58" cy="383.80" r="6.60"/><circle cx="634.13" cy="376.76" r="6.60"/><circle cx="645.79" cy="387.32" r="6.60"/><circle cx="660.83" cy="373.24" r="6.60"/><circle cx="697.06" cy="338.04" r="6.60"/><circle cx="708.72" cy="348.60" r="6.60"/><circle cx="718.25" cy="338.04" r="6.60"/><circle cx="726.31" cy="327.48" r="6.60"/><circle cx="733.29" cy="323.96" r="6.60"/><circle cx="739.44" cy="327.48" r="6.60"/><circle cx="745.42" cy="334.52" r="6.60"/><circle cx="749.93" cy="348.60" r="6.60"/><circle cx="754.48" cy="334.52" r="6.60"/><circle cx="758.66" cy="331.00" r="6.60"/><circle cx="762.54" cy="323.96" r="6.60"/><circle cx="766.14" cy="316.92" r="6.60"/><circle cx="772.68" cy="313.40" r="6.60"/><circle cx="781.18" cy="320.44" r="6.60"/><circle cx="792.84" cy="299.32" r="6.60"/><circle cx="802.37" cy="295.80" r="6.60"/><circle cx="817.41" cy="295.80" r="6.60"/></g>
<g fill="#ff0000"><rect x="498.64" y="290.19" width="11.22" height="11.22"/><rect x="503.62" y="290.19" width="11.22" height="11.22"/><rect x="508.17" y="290.19" width="11.22" height="11.22"/><rect x="512.35" y="290.19" width="11.22" height="11.22"/><rect x="516.23" y="290.19" width="11.22" height="11.22"/><rect x="519.83" y="290.19" width="11.22" height="11.22"/><rect x="523.21" y="290.19" width="11.22" height="11.22"/><rect x="526.37" y="290.19" width="11.22" height="11.22"/><rect x="534.87" y="297.23" width="11.22" height="11.22"/><rect x="571.10" y="459.15" width="11.22" height="11.22"/><rect x="582.76" y="469.71" width="11.22" height="11.22"/><rect x="592.29" y="515.47" width="11.22" height="11.22"/><rect x="600.35" y="518.99" width="11.22" height="11.22"/><rect x="607.33" y="494.35" width="11.22" height="11.22"/><rect x="613.48" y="480.27" width="11.22" height="11.22"/><rect x="618.99" y="490.83" width="11.22" height="11.22"/><rect x="623.97" y="497.87" width="11.22" height="11.22"/><rect x="628.52" y="497.87" width="11.22" height="11.22"/><rect x="640.18" y="476.75" width="11.22" height="11.22"/><rect x="655.22" y="480.27" width="11.22" height="11.22"/><rect x="676.41" y="452.11" width="11.22" height="11.22"/><rect x="691.45" y="434.51" width="11.22" height="11.22"/><rect x="703.11" y="374.67" width="11.22" height="11.22"/><rect x="739.34" y="357.07" width="11.22" height="11.22"/><rect x="775.57" y="346.51" width="11.22" height="11.22"/><rect x="823.46" y="325.39" width="11.22" height="11.22"/><rect x="835.12" y="328.91" width="11.22" height="11.22"/><rect x="844.65" y="335.95" width="11.22" height="11.22"/><rect x="859.69" y="314.83" width="11.22" height="11.22"/><rect x="880.88" y="297.23" width="11.22" height="11.22"/><rect x="895.92" y="290.19" width="11.22" height="11.22"/><rect x="907.58" y="290.19" width="11.22" height="11.22"/></g>
<g fill="#670748"><path d="M497.25 295.80 L504.25 289.00 L511.25 295.80 L504.25 302.60Z"/><path d="M502.23 295.80 L509.23 289.00 L516.23 295.80 L509.23 302.60Z"/><path d="M506.78 295.80 L513.78 289.00 L520.78 295.80 L513.78 302.60Z"/><path d="M510.96 295.80 L517.96 289.00 L524.96 295.80 L517.96 302.60Z"/><path d="M514.84 295.80 L521.84 289.00 L528.84 295.80 L521.84 302.60Z"/><path d="M518.44 295.80 L525.44 289.00 L532.44 295.80 L525.44 302.60Z"/><path d="M521.82 295.80 L528.82 289.00 L535.82 295.80 L528.82 302.60Z"/><path d="M524.98 295.80 L531.98 289.00 L538.98 295.80 L531.98 302.60Z"/><path d="M527.97 295.80 L534.97 289.00 L541.97 295.80 L534.97 302.60Z"/><path d="M530.80 295.80 L537.80 289.00 L544.80 295.80 L537.80 302.60Z"/><path d="M533.48 306.36 L540.48 299.56 L547.48 306.36 L540.48 313.16Z"/><path d="M569.71 595.00 L576.71 588.20 L583.71 595.00 L576.71 601.80Z"/><path d="M581.37 591.48 L588.37 584.68 L595.37 591.48 L588.37 598.28Z"/><path d="M590.90 623.16 L597.90 616.36 L604.90 623.16 L597.90 629.96Z"/><path d="M598.96 619.64 L605.96 612.84 L612.96 619.64 L605.96 626.44Z"/><path d="M605.94 594.30 L612.94 587.50 L619.94 594.30 L612.94 601.10Z"/><path d="M612.09 593.94 L619.09 587.14 L626.09 593.94 L619.09 600.74Z"/><path d="M617.60 597.46 L624.60 590.66 L631.60 597.46 L624.60 604.26Z"/><path d="M622.58 605.56 L629.58 598.76 L636.58 605.56 L629.58 612.36Z"/><path d="M627.13 616.12 L634.13 609.32 L641.13 616.12 L634.13 622.92Z"/><path d="M638.79 616.12 L645.79 609.32 L652.79 616.12 L645.79 622.92Z"/><path d="M653.83 542.20 L660.83 535.40 L667.83 542.20 L660.83 549.00Z"/><path d="M675.02 566.84 L682.02 560.04 L689.02 566.84 L682.02 573.64Z"/><path d="M690.06 524.60 L697.06 517.80 L704.06 524.60 L697.06 531.40Z"/><path d="M701.72 510.52 L708.72 503.72 L715.72 510.52 L708.72 517.32Z"/><path d="M737.95 457.72 L744.95 450.92 L751.95 457.72 L744.95 464.52Z"/><path d="M774.18 383.80 L781.18 377.00 L788.18 383.80 L781.18 390.60Z"/><path d="M822.07 376.76 L829.07 369.96 L836.07 376.76 L829.07 383.56Z"/><path d="M858.30 338.04 L865.30 331.24 L872.30 338.04 L865.30 344.84Z"/><path d="M879.49 331.00 L886.49 324.20 L893.49 331.00 L886.49 337.80Z"/><path d="M894.53 327.48 L901.53 320.68 L908.53 327.48 L901.53 334.28Z"/><path d="M901.83 334.52 L908.83 327.72 L915.83 334.52 L908.83 341.32Z"/><path d="M904.06 334.52 L911.06 327.72 L918.06 334.52 L911.06 341.32Z"/><path d="M905.14 336.28 L912.14 329.48 L919.14 336.28 L912.14 343.08Z"/><path d="M906.19 334.52 L913.19 327.72 L920.19 334.52 L913.19 341.32Z"/><path d="M923.78 320.44 L930.78 313.64 L937.78 320.44 L930.78 327.24Z"/><path d="M942.42 309.88 L949.42 303.08 L956.42 309.88 L949.42 316.68Z"/><path d="M963.61 295.80 L970.61 289.00 L977.61 295.80 L970.61 302.60Z"/><path d="M978.65 295.80 L985.65 289.00 L992.65 295.80 L985.65 302.60Z"/></g>
<g fill="#0000ff"><path d="M504.25 287.72 L497.25 299.84 L511.25 299.84Z"/><path d="M509.23 287.72 L502.23 299.84 L516.23 299.84Z"/><path d="M513.78 287.72 L506.78 299.84 L520.78 299.84Z"/><path d="M517.96 287.72 L510.96 299.84 L524.96 299.84Z"/><path d="M521.84 287.72 L514.84 299.84 L528.84 299.84Z"/><path d="M525.44 287.72 L518.44 299.84 L532.44 299.84Z"/><path d="M528.82 287.72 L521.82 299.84 L535.82 299.84Z"/><path d="M531.98 287.72 L524.98 299.84 L538.98 299.84Z"/><path d="M534.97 287.72 L527.97 299.84 L541.97 299.84Z"/><path d="M537.80 287.72 L530.80 299.84 L544.80 299.84Z"/><path d="M540.48 294.76 L533.48 306.88 L547.48 306.88Z"/><path d="M552.14 498.92 L545.14 511.04 L559.14 511.04Z"/><path d="M561.67 590.44 L554.67 602.56 L568.67 602.56Z"/><path d="M576.71 639.72 L569.71 651.84 L583.71 651.84Z"/><path d="M588.37 639.72 L581.37 651.84 L595.37 651.84Z"/><path d="M597.90 639.72 L590.90 651.84 L604.90 651.84Z"/><path d="M605.96 632.68 L598.96 644.80 L612.96 644.80Z"/><path d="M612.94 639.72 L605.94 651.84 L619.94 651.84Z"/><path d="M619.09 632.68 L612.09 644.80 L626.09 644.80Z"/><path d="M624.60 639.72 L617.60 651.84 L631.60 651.84Z"/><path d="M629.58 629.16 L622.58 641.28 L636.58 641.28Z"/><path d="M634.13 632.68 L627.13 644.80 L641.13 644.80Z"/><path d="M645.79 636.20 L638.79 648.32 L652.79 648.32Z"/><path d="M660.83 636.20 L653.83 648.32 L667.83 648.32Z"/><path d="M682.02 632.68 L675.02 644.80 L689.02 644.80Z"/><path d="M697.06 611.56 L690.06 623.68 L704.06 623.68Z"/><path d="M708.72 593.96 L701.72 606.08 L715.72 606.08Z"/><path d="M744.95 558.76 L737.95 570.88 L751.95 570.88Z"/><path d="M781.18 516.52 L774.18 528.64 L788.18 528.64Z"/><path d="M829.07 414.44 L822.07 426.56 L836.07 426.56Z"/><path d="M865.30 379.24 L858.30 391.36 L872.30 391.36Z"/></g>
<g fill="none" stroke-width="3.8" stroke-linejoin="round">
<path d="M504.31 295.80 L504.83 295.80 L505.35 295.80 L505.87 295.80 L506.39 295.80 L506.91 295.80 L507.43 295.80 L507.95 295.80 L508.47 295.80 L508.99 295.80 L509.51 295.80 L510.03 295.80 L510.55 295.80 L511.07 295.80 L511.59 295.80 L512.11 295.80 L512.63 295.80 L513.15 295.80 L513.67 295.80 L514.19 295.80 L514.71 295.80 L515.24 295.80 L515.76 295.80 L516.28 295.80 L516.80 295.80 L517.32 295.80 L517.84 295.80 L518.36 295.80 L518.88 295.80 L519.40 295.80 L519.92 295.80 L520.44 295.80 L520.96 295.80 L521.48 295.80 L522.00 295.80 L522.52 295.80 L523.04 295.80 L523.56 295.80 L524.08 295.80 L524.60 295.80 L525.12 295.80 L525.64 295.80 L526.16 295.80 L526.68 295.80 L527.20 295.80 L527.72 295.80 L528.24 295.80 L528.76 295.80 L529.28 295.80 L529.81 295.80 L530.33 295.80 L530.85 295.80 L531.37 295.80 L531.89 295.80 L532.41 295.80 L532.93 295.80 L533.45 295.80 L533.97 295.80 L534.49 295.80 L535.01 295.80 L535.53 295.80 L536.05 295.80 L536.57 295.80 L537.09 295.80 L537.61 295.80 L538.13 295.80 L538.65 295.80 L539.17 295.80 L539.69 295.82 L540.21 295.90 L540.73 296.18 L541.25 296.55 L541.77 296.95 L542.29 297.38 L542.81 297.84 L543.33 298.33 L543.85 298.82 L544.38 299.29 L544.90 299.77 L545.42 300.24 L545.94 300.72 L546.46 301.21 L546.98 301.70 L547.50 302.22 L548.02 302.75 L548.54 303.30 L549.06 303.88 L549.58 304.48 L550.10 305.09 L550.62 305.71 L551.14 306.34 L551.66 306.97 L552.18 307.60 L552.70 308.23 L553.22 308.85 L553.74 309.47 L554.26 310.09 L554.78 310.71 L555.30 311.35 L555.82 311.99 L556.34 312.65 L556.86 313.33 L557.38 314.03 L557.90 314.74 L558.42 315.46 L558.94 316.20 L559.47 316.95 L559.99 317.71 L560.51 318.48 L561.03 319.25 L561.55 320.04 L562.07 320.83 L562.59 321.62 L563.11 322.42 L563.63 323.22 L564.15 324.02 L564.67 324.83 L565.19 325.63 L565.71 326.43 L566.23 327.25 L566.75 328.07 L567.27 328.91 L567.79 329.75 L568.31 330.59 L568.83 331.43 L569.35 332.27 L569.87 333.12 L570.39 333.96 L570.91 334.81 L571.43 335.66 L571.95 336.51 L572.47 337.36 L572.99 338.22 L573.51 339.07 L574.04 339.94 L574.56 340.81 L575.08 341.69 L575.60 342.57 L576.12 343.45 L576.64 344.33 L577.16 345.21 L577.68 346.09 L578.20 346.96 L578.72 347.82 L579.24 348.68 L579.76 349.53 L580.28 350.37 L580.80 351.19 L581.32 352.02 L581.84 352.84 L582.36 353.65 L582.88 354.47 L583.40 355.27 L583.92 356.07 L584.44 356.86 L584.96 357.64 L585.48 358.41 L586.00 359.16 L586.52 359.91 L587.04 360.64 L587.56 361.37 L588.08 362.09 L588.61 362.80 L589.13 363.51 L589.65 364.21 L590.17 364.91 L590.69 365.58 L591.21 366.25 L591.73 366.89 L592.25 367.52 L592.77 368.12 L593.29 368.71 L593.81 369.26 L594.33 369.81 L594.85 370.34 L595.37 370.86 L595.89 371.37 L596.41 371.86 L596.93 372.35 L597.45 372.81 L597.97 373.27 L598.49 373.71 L599.01 374.13 L599.53 374.54 L600.05 374.93 L600.57 375.32 L601.09 375.71 L601.61 376.09 L602.13 376.46 L602.65 376.82 L603.18 377.16 L603.70 377.50 L604.22 377.82 L604.74 378.13 L605.26 378.42 L605.78 378.70 L606.30 378.98 L606.82 379.25 L607.34 379.51 L607.86 379.77 L608.38 380.02 L608.90 380.25 L609.42 380.48 L609.94 380.69 L610.46 380.89 L610.98 381.07 L611.50 381.26 L612.02 381.45 L612.54 381.62 L613.06 381.80 L613.58 381.96 L614.10 382.11 L614.62 382.24 L615.14 382.36 L615.66 382.46 L616.18 382.55 L616.70 382.65 L617.22 382.73 L617.75 382.82 L618.27 382.89 L618.79 382.96 L619.31 383.02 L619.83 383.06 L620.35 383.10 L620.87 383.12 L621.39 383.13 L621.91 383.15 L622.43 383.15 L622.95 383.15 L623.47 383.15 L623.99 383.13 L624.51 383.11 L625.03 383.08 L625.55 383.04 L626.07 382.99 L626.59 382.93 L627.11 382.86 L627.63 382.79 L628.15 382.71 L628.67 382.62 L629.19 382.54 L629.71 382.45 L630.23 382.36 L630.75 382.25 L631.27 382.15 L631.79 382.04 L632.31 381.92 L632.84 381.80 L633.36 381.68 L633.88 381.55 L634.40 381.42 L634.92 381.29 L635.44 381.15 L635.96 381.01 L636.48 380.87 L637.00 380.73 L637.52 380.58 L638.04 380.43 L638.56 380.28 L639.08 380.12 L639.60 379.96 L640.12 379.80 L640.64 379.64 L641.16 379.47 L641.68 379.30 L642.20 379.12 L642.72 378.95 L643.24 378.77 L643.76 378.59 L644.28 378.41 L644.80 378.23 L645.32 378.04 L645.84 377.86 L646.36 377.67 L646.88 377.48 L647.41 377.28 L647.93 377.09 L648.45 376.89 L648.97 376.69 L649.49 376.49 L650.01 376.29 L650.53 376.09 L651.05 375.88 L651.57 375.67 L652.09 375.46 L652.61 375.25 L653.13 375.03 L653.65 374.82 L654.17 374.60 L654.69 374.38 L655.21 374.16 L655.73 373.93 L656.25 373.71 L656.77 373.48 L657.29 373.25 L657.81 373.02 L658.33 372.79 L658.85 372.55 L659.37 372.32 L659.89 372.08 L660.41 371.84 L660.93 371.60 L661.45 371.36 L661.98 371.11 L662.50 370.87 L663.02 370.62 L663.54 370.38 L664.06 370.13 L664.58 369.88 L665.10 369.63 L665.62 369.38 L666.14 369.13 L666.66 368.87 L667.18 368.62 L667.70 368.36 L668.22 368.11 L668.74 367.85 L669.26 367.59 L669.78 367.33 L670.30 367.08 L670.82 366.82 L671.34 366.56 L671.86 366.30 L672.38 366.04 L672.90 365.77 L673.42 365.51 L673.94 365.25 L674.46 364.99 L674.98 364.73 L675.50 364.46 L676.02 364.20 L676.55 363.94 L677.07 363.68 L677.59 363.41 L678.11 363.15 L678.63 362.89 L679.15 362.63 L679.67 362.36 L680.19 362.10 L680.71 361.84 L681.23 361.58 L681.75 361.32 L682.27 361.06 L682.79 360.80 L683.31 360.54 L683.83 360.28 L684.35 360.02 L684.87 359.76 L685.39 359.51 L685.91 359.25 L686.43 359.00 L686.95 358.74 L687.47 358.49 L687.99 358.23 L688.51 357.98 L689.03 357.73 L689.55 357.48 L690.07 357.23 L690.59 356.99 L691.11 356.74 L691.64 356.49 L692.16 356.25 L692.68 356.00 L693.20 355.76 L693.72 355.52 L694.24 355.27 L694.76 355.03 L695.28 354.79 L695.80 354.54 L696.32 354.30 L696.84 354.06 L697.36 353.82 L697.88 353.57 L698.40 353.33 L698.92 353.08 L699.44 352.84 L699.96 352.59 L700.48 352.35 L701.00 352.10 L701.52 351.85 L702.04 351.60 L702.56 351.35 L703.08 351.10 L703.60 350.85 L704.12 350.59 L704.64 350.34 L705.16 350.08 L705.68 349.82 L706.21 349.56 L706.73 349.30 L707.25 349.03 L707.77 348.77 L708.29 348.50 L708.81 348.23 L709.33 347.95 L709.85 347.68 L710.37 347.40 L710.89 347.12 L711.41 346.84 L711.93 346.55 L712.45 346.27 L712.97 345.98 L713.49 345.69 L714.01 345.40 L714.53 345.11 L715.05 344.82 L715.57 344.53 L716.09 344.23 L716.61 343.94 L717.13 343.64 L717.65 343.35 L718.17 343.05 L718.69 342.76 L719.21 342.46 L719.73 342.17 L720.25 341.87 L720.78 341.58 L721.30 341.29 L721.82 340.99 L722.34 340.70 L722.86 340.41 L723.38 340.12 L723.90 339.83 L724.42 339.55 L724.94 339.26 L725.46 338.98 L725.98 338.70 L726.50 338.42 L727.02 338.14 L727.54 337.86 L728.06 337.59 L728.58 337.32 L729.10 337.04 L729.62 336.78 L730.14 336.51 L730.66 336.24 L731.18 335.98 L731.70 335.72 L732.22 335.45 L732.74 335.19 L733.26 334.94 L733.78 334.68 L734.30 334.42 L734.82 334.17 L735.35 333.92 L735.87 333.66 L736.39 333.41 L736.91 333.16 L737.43 332.91 L737.95 332.67 L738.47 332.42 L738.99 332.18 L739.51 331.93 L740.03 331.69 L740.55 331.44 L741.07 331.20 L741.59 330.96 L742.11 330.72 L742.63 330.48 L743.15 330.24 L743.67 330.00 L744.19 329.76 L744.71 329.52 L745.23 329.28 L745.75 329.04 L746.27 328.80 L746.79 328.55 L747.31 328.31 L747.83 328.07 L748.35 327.83 L748.87 327.58 L749.39 327.34 L749.92 327.10 L750.44 326.85 L750.96 326.60 L751.48 326.35 L752.00 326.11 L752.52 325.85 L753.04 325.60 L753.56 325.35 L754.08 325.10 L754.60 324.84 L755.12 324.58 L755.64 324.33 L756.16 324.07 L756.68 323.81 L757.20 323.55 L757.72 323.29 L758.24 323.03 L758.76 322.77 L759.28 322.51 L759.80 322.25 L760.32 321.99 L760.84 321.73 L761.36 321.47 L761.88 321.21 L762.40 320.96 L762.92 320.70 L763.44 320.44 L763.96 320.19 L764.48 319.93 L765.01 319.68 L765.53 319.43 L766.05 319.17 L766.57 318.92 L767.09 318.67 L767.61 318.42 L768.13 318.18 L768.65 317.93 L769.17 317.68 L769.69 317.43 L770.21 317.19 L770.73 316.95 L771.25 316.70 L771.77 316.46 L772.29 316.22 L772.81 315.98 L773.33 315.74 L773.85 315.50 L774.37 315.26 L774.89 315.02 L775.41 314.79 L775.93 314.55 L776.45 314.32 L776.97 314.08 L777.49 313.85 L778.01 313.62 L778.53 313.38 L779.05 313.15 L779.58 312.92 L780.10 312.70 L780.62 312.47 L781.14 312.24 L781.66 312.01 L782.18 311.79 L782.70 311.56 L783.22 311.34 L783.74 311.12 L784.26 310.90 L784.78 310.67 L785.30 310.45 L785.82 310.23 L786.34 310.01 L786.86 309.79 L787.38 309.58 L787.90 309.36 L788.42 309.14 L788.94 308.92 L789.46 308.71 L789.98 308.49 L790.50 308.28 L791.02 308.06 L791.54 307.85 L792.06 307.64 L792.58 307.42 L793.10 307.21 L793.62 307.00 L794.15 306.79 L794.67 306.58 L795.19 306.36 L795.71 306.15 L796.23 305.94 L796.75 305.73 L797.27 305.52 L797.79 305.31 L798.31 305.11 L798.83 304.90 L799.35 304.69 L799.87 304.48 L800.39 304.27 L800.91 304.06 L801.43 303.86 L801.95 303.65 L802.47 303.44 L802.99 303.23 L803.51 303.02 L804.03 302.82 L804.55 302.61 L805.07 302.40 L805.59 302.19 L806.11 301.99 L806.63 301.78 L807.15 301.57 L807.67 301.36 L808.19 301.16 L808.72 300.95 L809.24 300.74 L809.76 300.53 L810.28 300.32 L810.80 300.12 L811.32 299.91 L811.84 299.70 L812.36 299.49 L812.88 299.28 L813.40 299.07 L813.92 298.86 L814.44 298.65 L814.96 298.44 L815.48 298.23 L816.00 298.02" stroke="#000000"/>
<path d="M504.25 295.80 L504.95 295.80 L505.65 295.80 L506.36 295.80 L507.06 295.80 L507.76 295.80 L508.46 295.80 L509.17 295.80 L509.87 295.80 L510.57 295.80 L511.27 295.80 L511.98 295.80 L512.68 295.80 L513.38 295.80 L514.08 295.80 L514.79 295.80 L515.49 295.80 L516.19 295.80 L516.89 295.80 L517.60 295.80 L518.30 295.80 L519.00 295.80 L519.70 295.80 L520.41 295.80 L521.11 295.80 L521.81 295.80 L522.51 295.80 L523.22 295.80 L523.92 295.80 L524.62 295.80 L525.32 295.80 L526.03 295.81 L526.73 295.82 L527.43 295.83 L528.13 295.85 L528.83 295.86 L529.54 295.88 L530.24 295.91 L530.94 295.93 L531.64 295.95 L532.35 295.98 L533.05 296.00 L533.75 296.10 L534.45 296.30 L535.16 296.59 L535.86 296.92 L536.56 297.28 L537.26 297.65 L537.97 298.24 L538.67 299.05 L539.37 300.02 L540.07 301.12 L540.78 302.41 L541.48 303.95 L542.18 305.66 L542.88 307.50 L543.59 309.41 L544.29 311.34 L544.99 313.22 L545.69 315.08 L546.40 316.97 L547.10 318.88 L547.80 320.82 L548.50 322.78 L549.20 324.77 L549.91 326.79 L550.61 328.84 L551.31 330.92 L552.01 333.03 L552.72 335.16 L553.42 337.35 L554.12 339.57 L554.82 341.84 L555.53 344.15 L556.23 346.49 L556.93 348.86 L557.63 351.26 L558.34 353.69 L559.04 356.13 L559.74 358.59 L560.44 361.07 L561.15 363.57 L561.85 366.11 L562.55 368.68 L563.25 371.30 L563.96 373.96 L564.66 376.67 L565.36 379.43 L566.06 382.24 L566.77 385.13 L567.47 388.14 L568.17 391.24 L568.87 394.40 L569.58 397.58 L570.28 400.76 L570.98 403.91 L571.68 407.05 L572.38 410.21 L573.09 413.40 L573.79 416.58 L574.49 419.76 L575.19 422.92 L575.90 426.05 L576.60 429.13 L577.30 432.15 L578.00 435.11 L578.71 438.01 L579.41 440.88 L580.11 443.70 L580.81 446.49 L581.52 449.25 L582.22 451.98 L582.92 454.68 L583.62 457.37 L584.33 460.09 L585.03 462.86 L585.73 465.62 L586.43 468.34 L587.14 470.97 L587.84 473.45 L588.54 475.75 L589.24 477.82 L589.95 479.72 L590.65 481.49 L591.35 483.16 L592.05 484.76 L592.76 486.31 L593.46 487.84 L594.16 489.37 L594.86 490.93 L595.56 492.53 L596.27 494.12 L596.97 495.62 L597.67 496.97 L598.37 498.10 L599.08 499.13 L599.78 500.10 L600.48 501.01 L601.18 501.85 L601.89 502.64 L602.59 503.36 L603.29 504.02 L603.99 504.65 L604.70 505.26 L605.40 505.85 L606.10 506.41 L606.80 506.94 L607.51 507.42 L608.21 507.86 L608.91 508.29 L609.61 508.70 L610.32 509.06 L611.02 509.37 L611.72 509.61 L612.42 509.85 L613.13 510.03 L613.83 510.15 L614.53 510.17 L615.23 510.12 L615.93 510.00 L616.64 509.84 L617.34 509.60 L618.04 509.28 L618.74 508.90 L619.45 508.50 L620.15 508.08 L620.85 507.63 L621.55 507.16 L622.26 506.68 L622.96 506.20 L623.66 505.73 L624.36 505.27 L625.07 504.81 L625.77 504.35 L626.47 503.87 L627.17 503.37 L627.88 502.85 L628.58 502.30 L629.28 501.71 L629.98 501.10 L630.69 500.44 L631.39 499.75 L632.09 498.99 L632.79 498.17 L633.50 497.30 L634.20 496.40 L634.90 495.50 L635.60 494.63 L636.31 493.78 L637.01 492.93 L637.71 492.08 L638.41 491.22 L639.11 490.37 L639.82 489.52 L640.52 488.66 L641.22 487.81 L641.92 486.95 L642.63 486.10 L643.33 485.24 L644.03 484.39 L644.73 483.53 L645.44 482.68 L646.14 481.82 L646.84 480.95 L647.54 480.08 L648.25 479.21 L648.95 478.33 L649.65 477.45 L650.35 476.56 L651.06 475.66 L651.76 474.76 L652.46 473.85 L653.16 472.93 L653.87 472.01 L654.57 471.08 L655.27 470.14 L655.97 469.20 L656.68 468.25 L657.38 467.30 L658.08 466.34 L658.78 465.38 L659.48 464.42 L660.19 463.45 L660.89 462.48 L661.59 461.50 L662.29 460.53 L663.00 459.55 L663.70 458.58 L664.40 457.60 L665.10 456.63 L665.81 455.65 L666.51 454.68 L667.21 453.70 L667.91 452.73 L668.62 451.76 L669.32 450.79 L670.02 449.81 L670.72 448.84 L671.43 447.87 L672.13 446.91 L672.83 445.94 L673.53 444.98 L674.24 444.01 L674.94 443.05 L675.64 442.10 L676.34 441.14 L677.05 440.19 L677.75 439.24 L678.45 438.29 L679.15 437.35 L679.86 436.41 L680.56 435.47 L681.26 434.54 L681.96 433.62 L682.66 432.69 L683.37 431.78 L684.07 430.86 L684.77 429.95 L685.47 429.05 L686.18 428.15 L686.88 427.26 L687.58 426.38 L688.28 425.50 L688.99 424.62 L689.69 423.76 L690.39 422.90 L691.09 422.04 L691.80 421.19 L692.50 420.35 L693.20 419.51 L693.90 418.68 L694.61 417.86 L695.31 417.04 L696.01 416.23 L696.71 415.42 L697.42 414.62 L698.12 413.82 L698.82 413.03 L699.52 412.25 L700.23 411.47 L700.93 410.70 L701.63 409.93 L702.33 409.17 L703.04 408.41 L703.74 407.66 L704.44 406.91 L705.14 406.17 L705.84 405.44 L706.55 404.71 L707.25 403.98 L707.95 403.26 L708.65 402.55 L709.36 401.84 L710.06 401.13 L710.76 400.43 L711.46 399.74 L712.17 399.05 L712.87 398.36 L713.57 397.68 L714.27 397.01 L714.98 396.34 L715.68 395.67 L716.38 395.01 L717.08 394.35 L717.79 393.70 L718.49 393.05 L719.19 392.40 L719.89 391.76 L720.60 391.13 L721.30 390.50 L722.00 389.87 L722.70 389.25 L723.41 388.63 L724.11 388.01 L724.81 387.40 L725.51 386.80 L726.21 386.19 L726.92 385.60 L727.62 385.00 L728.32 384.41 L729.02 383.82 L729.73 383.24 L730.43 382.66 L731.13 382.08 L731.83 381.51 L732.54 380.94 L733.24 380.38 L733.94 379.81 L734.64 379.26 L735.35 378.70 L736.05 378.15 L736.75 377.60 L737.45 377.05 L738.16 376.51 L738.86 375.97 L739.56 375.44 L740.26 374.91 L740.97 374.38 L741.67 373.85 L742.37 373.33 L743.07 372.81 L743.78 372.30 L744.48 371.78 L745.18 371.27 L745.88 370.77 L746.59 370.26 L747.29 369.76 L747.99 369.27 L748.69 368.77 L749.39 368.28 L750.10 367.79 L750.80 367.31 L751.50 366.83 L752.20 366.35 L752.91 365.87 L753.61 365.39 L754.31 364.92 L755.01 364.46 L755.72 363.99 L756.42 363.53 L757.12 363.07 L757.82 362.61 L758.53 362.15 L759.23 361.70 L759.93 361.25 L760.63 360.81 L761.34 360.36 L762.04 359.92 L762.74 359.48 L763.44 359.04 L764.15 358.61 L764.85 358.18 L765.55 357.75 L766.25 357.32 L766.96 356.90 L767.66 356.48 L768.36 356.06 L769.06 355.64 L769.77 355.23 L770.47 354.82 L771.17 354.41 L771.87 354.00 L772.57 353.59 L773.28 353.19 L773.98 352.79 L774.68 352.39 L775.38 352.00 L776.09 351.60 L776.79 351.21 L777.49 350.83 L778.19 350.44 L778.90 350.06 L779.60 349.67 L780.30 349.29 L781.00 348.92 L781.71 348.54 L782.41 348.17 L783.11 347.80 L783.81 347.43 L784.52 347.07 L785.22 346.70 L785.92 346.34 L786.62 345.98 L787.33 345.62 L788.03 345.27 L788.73 344.91 L789.43 344.56 L790.14 344.22 L790.84 343.87 L791.54 343.52 L792.24 343.18 L792.94 342.84 L793.65 342.50 L794.35 342.17 L795.05 341.83 L795.75 341.50 L796.46 341.17 L797.16 340.84 L797.86 340.52 L798.56 340.19 L799.27 339.87 L799.97 339.55 L800.67 339.23 L801.37 338.91 L802.08 338.60 L802.78 338.29 L803.48 337.98 L804.18 337.67 L804.89 337.36 L805.59 337.06 L806.29 336.75 L806.99 336.45 L807.70 336.15 L808.40 335.86 L809.10 335.56 L809.80 335.27 L810.51 334.98 L811.21 334.69 L811.91 334.40 L812.61 334.11 L813.32 333.83 L814.02 333.54 L814.72 333.26 L815.42 332.98 L816.12 332.70 L816.83 332.43 L817.53 332.15 L818.23 331.88 L818.93 331.61 L819.64 331.34 L820.34 331.07 L821.04 330.81 L821.74 330.54 L822.45 330.28 L823.15 330.02 L823.85 329.76 L824.55 329.50 L825.26 329.25 L825.96 328.99 L826.66 328.74 L827.36 328.49 L828.07 328.24 L828.77 327.99 L829.47 327.74 L830.17 327.50 L830.88 327.26 L831.58 327.01 L832.28 326.77 L832.98 326.53 L833.69 326.30 L834.39 326.06 L835.09 325.83 L835.79 325.59 L836.49 325.36 L837.20 325.13 L837.90 324.90 L838.60 324.67 L839.30 324.45 L840.01 324.22 L840.71 324.00 L841.41 323.78 L842.11 323.56 L842.82 323.34 L843.52 323.12 L844.22 322.90 L844.92 322.69 L845.63 322.47 L846.33 322.26 L847.03 322.05 L847.73 321.84 L848.44 321.63 L849.14 321.42 L849.84 321.21 L850.54 321.01 L851.25 320.80 L851.95 320.60 L852.65 320.40 L853.35 320.20 L854.06 320.00 L854.76 319.80 L855.46 319.60 L856.16 319.41 L856.87 319.21 L857.57 319.02 L858.27 318.83 L858.97 318.63 L859.67 318.44 L860.38 318.26 L861.08 318.07 L861.78 317.88 L862.48 317.69 L863.19 317.51 L863.89 317.32 L864.59 317.14 L865.29 316.96 L866.00 316.78 L866.70 316.60 L867.40 316.42 L868.10 316.24 L868.81 316.06 L869.51 315.89 L870.21 315.71 L870.91 315.54 L871.62 315.37 L872.32 315.19 L873.02 315.02 L873.72 314.85 L874.43 314.68 L875.13 314.51 L875.83 314.34 L876.53 314.18 L877.24 314.01 L877.94 313.84 L878.64 313.68 L879.34 313.52 L880.05 313.35 L880.75 313.19 L881.45 313.03 L882.15 312.87 L882.85 312.71 L883.56 312.55 L884.26 312.39 L884.96 312.23 L885.66 312.07 L886.37 311.92 L887.07 311.76 L887.77 311.61 L888.47 311.45 L889.18 311.30 L889.88 311.15 L890.58 310.99 L891.28 310.84 L891.99 310.69 L892.69 310.54 L893.39 310.39 L894.09 310.24 L894.80 310.09 L895.50 309.94 L896.20 309.79 L896.90 309.65 L897.61 309.50 L898.31 309.35 L899.01 309.21 L899.71 309.06 L900.42 308.92 L901.12 308.77 L901.82 308.63 L902.52 308.49 L903.22 308.34 L903.93 308.20 L904.63 308.06 L905.33 307.92 L906.03 307.78 L906.74 307.64 L907.44 307.50 L908.14 307.36 L908.84 307.22 L909.55 307.08 L910.25 306.94 L910.95 306.80 L911.65 306.66 L912.36 306.52 L913.06 306.39 L913.76 306.25 L914.46 306.11 L915.17 305.97 L915.87 305.84 L916.57 305.70 L917.27 305.57 L917.98 305.43 L918.68 305.29 L919.38 305.16 L920.08 305.02 L920.79 304.89 L921.49 304.75 L922.19 304.62 L922.89 304.49 L923.60 304.35 L924.30 304.22 L925.00 304.08" stroke="#ff0000"/>
<path d="M504.25 295.80 L505.05 295.80 L505.86 295.80 L506.66 295.80 L507.46 295.80 L508.26 295.80 L509.07 295.80 L509.87 295.80 L510.67 295.80 L511.47 295.80 L512.28 295.80 L513.08 295.80 L513.88 295.80 L514.68 295.80 L515.49 295.80 L516.29 295.80 L517.09 295.80 L517.89 295.80 L518.70 295.80 L519.50 295.80 L520.30 295.80 L521.10 295.80 L521.91 295.80 L522.71 295.80 L523.51 295.80 L524.31 295.80 L525.12 295.80 L525.92 295.80 L526.72 295.81 L527.53 295.83 L528.33 295.84 L529.13 295.86 L529.93 295.88 L530.74 295.90 L531.54 295.93 L532.34 295.95 L533.14 295.98 L533.95 296.00 L534.75 296.13 L535.55 296.44 L536.35 296.87 L537.16 297.32 L537.96 297.89 L538.76 299.19 L539.56 300.92 L540.37 304.49 L541.17 310.88 L541.97 319.53 L542.77 330.99 L543.58 342.07 L544.38 351.93 L545.18 361.79 L545.98 372.69 L546.79 385.94 L547.59 399.25 L548.39 409.77 L549.19 418.59 L550.00 426.38 L550.80 433.46 L551.60 440.10 L552.41 446.43 L553.21 452.59 L554.01 458.73 L554.81 464.67 L555.62 470.10 L556.42 475.07 L557.22 479.80 L558.02 484.34 L558.83 488.74 L559.63 493.04 L560.43 497.27 L561.23 501.47 L562.04 505.61 L562.84 509.68 L563.64 513.63 L564.44 517.45 L565.25 521.11 L566.05 524.68 L566.85 528.17 L567.65 531.58 L568.46 534.93 L569.26 538.20 L570.06 541.40 L570.86 544.52 L571.67 547.60 L572.47 550.67 L573.27 553.66 L574.08 556.49 L574.88 559.06 L575.68 561.34 L576.48 563.47 L577.29 565.49 L578.09 567.39 L578.89 569.19 L579.69 570.88 L580.50 572.48 L581.30 574.06 L582.10 575.60 L582.90 577.11 L583.71 578.58 L584.51 580.02 L585.31 581.42 L586.11 582.77 L586.92 584.08 L587.72 585.34 L588.52 586.60 L589.32 587.85 L590.13 589.09 L590.93 590.30 L591.73 591.46 L592.53 592.57 L593.34 593.62 L594.14 594.58 L594.94 595.44 L595.74 596.24 L596.55 597.02 L597.35 597.77 L598.15 598.49 L598.96 599.16 L599.76 599.79 L600.56 600.37 L601.36 600.89 L602.17 601.33 L602.97 601.72 L603.77 602.11 L604.57 602.50 L605.38 602.85 L606.18 603.17 L606.98 603.44 L607.78 603.63 L608.59 603.74 L609.39 603.76 L610.19 603.73 L610.99 603.63 L611.80 603.49 L612.60 603.31 L613.40 603.08 L614.20 602.79 L615.01 602.44 L615.81 602.07 L616.61 601.68 L617.41 601.29 L618.22 600.91 L619.02 600.51 L619.82 600.09 L620.63 599.64 L621.43 599.17 L622.23 598.65 L623.03 598.06 L623.84 597.41 L624.64 596.72 L625.44 596.00 L626.24 595.27 L627.05 594.53 L627.85 593.81 L628.65 593.08 L629.45 592.35 L630.26 591.60 L631.06 590.85 L631.86 590.10 L632.66 589.33 L633.47 588.56 L634.27 587.79 L635.07 587.01 L635.87 586.23 L636.68 585.44 L637.48 584.65 L638.28 583.86 L639.08 583.06 L639.89 582.25 L640.69 581.44 L641.49 580.63 L642.30 579.81 L643.10 578.98 L643.90 578.15 L644.70 577.31 L645.51 576.46 L646.31 575.60 L647.11 574.74 L647.91 573.86 L648.72 572.98 L649.52 572.08 L650.32 571.17 L651.12 570.25 L651.93 569.32 L652.73 568.38 L653.53 567.42 L654.33 566.45 L655.14 565.47 L655.94 564.48 L656.74 563.47 L657.54 562.45 L658.35 561.43 L659.15 560.39 L659.95 559.34 L660.75 558.29 L661.56 557.22 L662.36 556.15 L663.16 555.07 L663.96 553.99 L664.77 552.90 L665.57 551.81 L666.37 550.72 L667.18 549.63 L667.98 548.53 L668.78 547.43 L669.58 546.34 L670.39 545.24 L671.19 544.15 L671.99 543.05 L672.79 541.95 L673.60 540.85 L674.40 539.75 L675.20 538.65 L676.00 537.54 L676.81 536.43 L677.61 535.31 L678.41 534.20 L679.21 533.08 L680.02 531.96 L680.82 530.84 L681.62 529.71 L682.42 528.59 L683.23 527.46 L684.03 526.33 L684.83 525.20 L685.63 524.07 L686.44 522.94 L687.24 521.80 L688.04 520.67 L688.85 519.53 L689.65 518.40 L690.45 517.26 L691.25 516.13 L692.06 514.99 L692.86 513.86 L693.66 512.72 L694.46 511.59 L695.27 510.45 L696.07 509.32 L696.87 508.18 L697.67 507.05 L698.48 505.92 L699.28 504.79 L700.08 503.66 L700.88 502.53 L701.69 501.40 L702.49 500.28 L703.29 499.16 L704.09 498.03 L704.90 496.91 L705.70 495.80 L706.50 494.68 L707.30 493.57 L708.11 492.45 L708.91 491.34 L709.71 490.24 L710.52 489.13 L711.32 488.03 L712.12 486.93 L712.92 485.83 L713.73 484.73 L714.53 483.64 L715.33 482.55 L716.13 481.47 L716.94 480.38 L717.74 479.30 L718.54 478.22 L719.34 477.15 L720.15 476.08 L720.95 475.01 L721.75 473.94 L722.55 472.88 L723.36 471.83 L724.16 470.77 L724.96 469.72 L725.76 468.67 L726.57 467.63 L727.37 466.59 L728.17 465.55 L728.97 464.52 L729.78 463.49 L730.58 462.46 L731.38 461.44 L732.18 460.42 L732.99 459.41 L733.79 458.40 L734.59 457.39 L735.40 456.38 L736.20 455.38 L737.00 454.39 L737.80 453.39 L738.61 452.41 L739.41 451.42 L740.21 450.44 L741.01 449.46 L741.82 448.49 L742.62 447.52 L743.42 446.55 L744.22 445.59 L745.03 444.63 L745.83 443.68 L746.63 442.73 L747.43 441.78 L748.24 440.84 L749.04 439.90 L749.84 438.97 L750.64 438.04 L751.45 437.11 L752.25 436.19 L753.05 435.27 L753.85 434.36 L754.66 433.45 L755.46 432.55 L756.26 431.65 L757.07 430.75 L757.87 429.86 L758.67 428.97 L759.47 428.08 L760.28 427.20 L761.08 426.33 L761.88 425.46 L762.68 424.59 L763.49 423.73 L764.29 422.87 L765.09 422.02 L765.89 421.17 L766.70 420.32 L767.50 419.48 L768.30 418.65 L769.10 417.81 L769.91 416.99 L770.71 416.16 L771.51 415.35 L772.31 414.53 L773.12 413.72 L773.92 412.92 L774.72 412.12 L775.52 411.32 L776.33 410.53 L777.13 409.74 L777.93 408.96 L778.73 408.18 L779.54 407.41 L780.34 406.63 L781.14 405.87 L781.95 405.11 L782.75 404.35 L783.55 403.60 L784.35 402.85 L785.16 402.10 L785.96 401.36 L786.76 400.62 L787.56 399.89 L788.37 399.16 L789.17 398.44 L789.97 397.72 L790.77 397.00 L791.58 396.29 L792.38 395.58 L793.18 394.88 L793.98 394.18 L794.79 393.48 L795.59 392.79 L796.39 392.10 L797.19 391.41 L798.00 390.73 L798.80 390.06 L799.60 389.38 L800.40 388.72 L801.21 388.05 L802.01 387.39 L802.81 386.73 L803.62 386.08 L804.42 385.43 L805.22 384.78 L806.02 384.14 L806.83 383.50 L807.63 382.87 L808.43 382.24 L809.23 381.61 L810.04 380.99 L810.84 380.37 L811.64 379.75 L812.44 379.14 L813.25 378.53 L814.05 377.93 L814.85 377.33 L815.65 376.73 L816.46 376.14 L817.26 375.54 L818.06 374.96 L818.86 374.37 L819.67 373.79 L820.47 373.22 L821.27 372.65 L822.07 372.08 L822.88 371.51 L823.68 370.95 L824.48 370.39 L825.29 369.83 L826.09 369.28 L826.89 368.73 L827.69 368.19 L828.50 367.65 L829.30 367.11 L830.10 366.57 L830.90 366.04 L831.71 365.51 L832.51 364.99 L833.31 364.46 L834.11 363.95 L834.92 363.43 L835.72 362.92 L836.52 362.41 L837.32 361.90 L838.13 361.40 L838.93 360.90 L839.73 360.41 L840.53 359.91 L841.34 359.42 L842.14 358.94 L842.94 358.46 L843.74 357.98 L844.55 357.50 L845.35 357.02 L846.15 356.55 L846.95 356.09 L847.76 355.62 L848.56 355.16 L849.36 354.70 L850.17 354.25 L850.97 353.79 L851.77 353.34 L852.57 352.90 L853.38 352.45 L854.18 352.01 L854.98 351.58 L855.78 351.14 L856.59 350.71 L857.39 350.28 L858.19 349.85 L858.99 349.43 L859.80 349.01 L860.60 348.59 L861.40 348.18 L862.20 347.77 L863.01 347.36 L863.81 346.95 L864.61 346.55 L865.41 346.15 L866.22 345.75 L867.02 345.36 L867.82 344.96 L868.62 344.57 L869.43 344.19 L870.23 343.80 L871.03 343.42 L871.84 343.04 L872.64 342.67 L873.44 342.29 L874.24 341.92 L875.05 341.55 L875.85 341.19 L876.65 340.82 L877.45 340.46 L878.26 340.10 L879.06 339.75 L879.86 339.40 L880.66 339.05 L881.47 338.70 L882.27 338.35 L883.07 338.01 L883.87 337.67 L884.68 337.33 L885.48 336.99 L886.28 336.66 L887.08 336.33 L887.89 336.00 L888.69 335.68 L889.49 335.35 L890.29 335.03 L891.10 334.71 L891.90 334.39 L892.70 334.08 L893.51 333.77 L894.31 333.46 L895.11 333.15 L895.91 332.84 L896.72 332.54 L897.52 332.24 L898.32 331.94 L899.12 331.65 L899.93 331.35 L900.73 331.06 L901.53 330.77 L902.33 330.48 L903.14 330.20 L903.94 329.91 L904.74 329.63 L905.54 329.35 L906.35 329.07 L907.15 328.80 L907.95 328.53 L908.75 328.25 L909.56 327.99 L910.36 327.72 L911.16 327.45 L911.96 327.19 L912.77 326.93 L913.57 326.67 L914.37 326.41 L915.17 326.16 L915.98 325.90 L916.78 325.65 L917.58 325.40 L918.39 325.16 L919.19 324.91 L919.99 324.67 L920.79 324.42 L921.60 324.18 L922.40 323.94 L923.20 323.71 L924.00 323.47 L924.81 323.24 L925.61 323.01 L926.41 322.78 L927.21 322.55 L928.02 322.32 L928.82 322.10 L929.62 321.88 L930.42 321.66 L931.23 321.44 L932.03 321.22 L932.83 321.00 L933.63 320.79 L934.44 320.57 L935.24 320.36 L936.04 320.15 L936.84 319.95 L937.65 319.74 L938.45 319.53 L939.25 319.33 L940.06 319.13 L940.86 318.93 L941.66 318.73 L942.46 318.53 L943.27 318.33 L944.07 318.14 L944.87 317.95 L945.67 317.75 L946.48 317.56 L947.28 317.38 L948.08 317.19 L948.88 317.00 L949.69 316.82 L950.49 316.63 L951.29 316.45 L952.09 316.27 L952.90 316.09 L953.70 315.91 L954.50 315.73 L955.30 315.56 L956.11 315.38 L956.91 315.21 L957.71 315.04 L958.51 314.87 L959.32 314.70 L960.12 314.53 L960.92 314.36 L961.72 314.19 L962.53 314.03 L963.33 313.87 L964.13 313.70 L964.94 313.54 L965.74 313.38 L966.54 313.22 L967.34 313.06 L968.15 312.90 L968.95 312.75 L969.75 312.59 L970.55 312.44 L971.36 312.28 L972.16 312.13 L972.96 311.98 L973.76 311.83 L974.57 311.68 L975.37 311.53 L976.17 311.38 L976.97 311.24 L977.78 311.09 L978.58 310.94 L979.38 310.80 L980.18 310.66 L980.99 310.51 L981.79 310.37 L982.59 310.23 L983.39 310.09 L984.20 309.95 L985.00 309.81" stroke="#670748"/>
<path d="M504.25 295.80 L504.85 295.80 L505.46 295.80 L506.06 295.80 L506.66 295.80 L507.26 295.80 L507.87 295.80 L508.47 295.80 L509.07 295.80 L509.67 295.80 L510.28 295.80 L510.88 295.80 L511.48 295.80 L512.08 295.80 L512.69 295.80 L513.29 295.80 L513.89 295.80 L514.49 295.80 L515.10 295.80 L515.70 295.80 L516.30 295.80 L516.90 295.80 L517.51 295.80 L518.11 295.80 L518.71 295.80 L519.32 295.80 L519.92 295.80 L520.52 295.80 L521.12 295.80 L521.73 295.80 L522.33 295.80 L522.93 295.80 L523.53 295.80 L524.14 295.80 L524.74 295.80 L525.34 295.80 L525.94 295.80 L526.55 295.81 L527.15 295.82 L527.75 295.83 L528.35 295.84 L528.96 295.86 L529.56 295.87 L530.16 295.89 L530.77 295.91 L531.37 295.92 L531.97 295.94 L532.57 295.96 L533.18 295.98 L533.78 295.99 L534.38 296.04 L534.98 296.20 L535.59 296.46 L536.19 296.77 L536.79 297.11 L537.39 297.44 L538.00 297.96 L538.60 298.98 L539.20 300.30 L539.80 302.04 L540.41 305.66 L541.01 310.73 L541.61 317.01 L542.21 325.37 L542.82 334.42 L543.42 342.64 L544.02 350.00 L544.63 357.18 L545.23 364.81 L545.83 373.45 L546.43 383.17 L547.04 393.62 L547.64 404.47 L548.24 415.38 L548.84 426.18 L549.45 437.35 L550.05 448.63 L550.65 459.65 L551.25 470.07 L551.86 479.61 L552.46 488.55 L553.06 497.31 L553.66 506.32 L554.27 516.05 L554.87 526.63 L555.47 537.45 L556.07 547.80 L556.68 557.02 L557.28 564.75 L557.88 571.85 L558.49 578.42 L559.09 584.48 L559.69 590.04 L560.29 595.10 L560.90 599.75 L561.50 604.32 L562.10 608.76 L562.70 612.96 L563.31 616.80 L563.91 620.17 L564.51 622.98 L565.11 625.55 L565.72 628.05 L566.32 630.42 L566.92 632.60 L567.52 634.54 L568.13 636.18 L568.73 637.46 L569.33 638.53 L569.94 639.56 L570.54 640.54 L571.14 641.44 L571.74 642.24 L572.35 642.92 L572.95 643.46 L573.55 643.92 L574.15 644.39 L574.76 644.85 L575.36 645.29 L575.96 645.67 L576.56 645.97 L577.17 646.18 L577.77 646.29 L578.37 646.37 L578.97 646.46 L579.58 646.54 L580.18 646.63 L580.78 646.70 L581.38 646.77 L581.99 646.84 L582.59 646.89 L583.19 646.94 L583.80 646.97 L584.40 646.99 L585.00 647.00 L585.60 647.00 L586.21 647.00 L586.81 647.00 L587.41 646.99 L588.01 646.99 L588.62 646.99 L589.22 646.99 L589.82 646.98 L590.42 646.98 L591.03 646.98 L591.63 646.97 L592.23 646.97 L592.83 646.96 L593.44 646.95 L594.04 646.94 L594.64 646.94 L595.24 646.93 L595.85 646.91 L596.45 646.90 L597.05 646.89 L597.66 646.87 L598.26 646.86 L598.86 646.84 L599.46 646.82 L600.07 646.80 L600.67 646.77 L601.27 646.75 L601.87 646.72 L602.48 646.70 L603.08 646.67 L603.68 646.64 L604.28 646.60 L604.89 646.57 L605.49 646.53 L606.09 646.50 L606.69 646.46 L607.30 646.42 L607.90 646.38 L608.50 646.34 L609.11 646.29 L609.71 646.25 L610.31 646.20 L610.91 646.15 L611.52 646.11 L612.12 646.06 L612.72 646.00 L613.32 645.95 L613.93 645.90 L614.53 645.84 L615.13 645.79 L615.73 645.73 L616.34 645.66 L616.94 645.58 L617.54 645.50 L618.14 645.41 L618.75 645.32 L619.35 645.22 L619.95 645.12 L620.55 645.02 L621.16 644.91 L621.76 644.80 L622.36 644.69 L622.97 644.58 L623.57 644.47 L624.17 644.35 L624.77 644.24 L625.38 644.13 L625.98 644.01 L626.58 643.89 L627.18 643.77 L627.79 643.65 L628.39 643.52 L628.99 643.39 L629.59 643.26 L630.20 643.13 L630.80 643.00 L631.40 642.86 L632.00 642.73 L632.61 642.60 L633.21 642.47 L633.81 642.34 L634.41 642.21 L635.02 642.09 L635.62 641.96 L636.22 641.84 L636.83 641.73 L637.43 641.61 L638.03 641.50 L638.63 641.39 L639.24 641.28 L639.84 641.17 L640.44 641.06 L641.04 640.95 L641.65 640.85 L642.25 640.74 L642.85 640.63 L643.45 640.52 L644.06 640.40 L644.66 640.29 L645.26 640.17 L645.86 640.05 L646.47 639.93 L647.07 639.80 L647.67 639.67 L648.28 639.54 L648.88 639.40 L649.48 639.26 L650.08 639.11 L650.69 638.96 L651.29 638.81 L651.89 638.65 L652.49 638.49 L653.10 638.33 L653.70 638.16 L654.30 637.99 L654.90 637.81 L655.51 637.63 L656.11 637.44 L656.71 637.25 L657.31 637.05 L657.92 636.85 L658.52 636.65 L659.12 636.44 L659.72 636.22 L660.33 636.00 L660.93 635.77 L661.53 635.54 L662.14 635.30 L662.74 635.06 L663.34 634.82 L663.94 634.57 L664.55 634.32 L665.15 634.07 L665.75 633.81 L666.35 633.55 L666.96 633.29 L667.56 633.02 L668.16 632.75 L668.76 632.47 L669.37 632.20 L669.97 631.91 L670.57 631.63 L671.17 631.34 L671.78 631.05 L672.38 630.75 L672.98 630.45 L673.58 630.15 L674.19 629.84 L674.79 629.54 L675.39 629.22 L676.00 628.90 L676.60 628.58 L677.20 628.26 L677.80 627.93 L678.41 627.60 L679.01 627.27 L679.61 626.93 L680.21 626.59 L680.82 626.24 L681.42 625.89 L682.02 625.54 L682.62 625.18 L683.23 624.82 L683.83 624.46 L684.43 624.09 L685.03 623.72 L685.64 623.35 L686.24 622.97 L686.84 622.59 L687.45 622.20 L688.05 621.82 L688.65 621.42 L689.25 621.03 L689.86 620.63 L690.46 620.23 L691.06 619.82 L691.66 619.41 L692.27 619.00 L692.87 618.58 L693.47 618.16 L694.07 617.73 L694.68 617.30 L695.28 616.87 L695.88 616.44 L696.48 616.00 L697.09 615.56 L697.69 615.11 L698.29 614.66 L698.89 614.21 L699.50 613.75 L700.10 613.29 L700.70 612.82 L701.31 612.36 L701.91 611.88 L702.51 611.41 L703.11 610.93 L703.72 610.45 L704.32 609.96 L704.92 609.47 L705.52 608.98 L706.13 608.48 L706.73 607.98 L707.33 607.47 L707.93 606.97 L708.54 606.45 L709.14 605.94 L709.74 605.42 L710.34 604.90 L710.95 604.37 L711.55 603.84 L712.15 603.31 L712.75 602.77 L713.36 602.23 L713.96 601.68 L714.56 601.13 L715.17 600.58 L715.77 600.02 L716.37 599.46 L716.97 598.90 L717.58 598.33 L718.18 597.76 L718.78 597.19 L719.38 596.61 L719.99 596.03 L720.59 595.44 L721.19 594.85 L721.79 594.26 L722.40 593.66 L723.00 593.06 L723.60 592.46 L724.20 591.85 L724.81 591.24 L725.41 590.62 L726.01 590.00 L726.62 589.38 L727.22 588.75 L727.82 588.12 L728.42 587.49 L729.03 586.85 L729.63 586.21 L730.23 585.57 L730.83 584.92 L731.44 584.26 L732.04 583.61 L732.64 582.95 L733.24 582.28 L733.85 581.61 L734.45 580.94 L735.05 580.27 L735.65 579.59 L736.26 578.91 L736.86 578.22 L737.46 577.53 L738.06 576.83 L738.67 576.14 L739.27 575.44 L739.87 574.73 L740.48 574.02 L741.08 573.31 L741.68 572.59 L742.28 571.87 L742.89 571.15 L743.49 570.42 L744.09 569.69 L744.69 568.95 L745.30 568.21 L745.90 567.47 L746.50 566.72 L747.10 565.97 L747.71 565.21 L748.31 564.46 L748.91 563.69 L749.51 562.93 L750.12 562.16 L750.72 561.38 L751.32 560.61 L751.92 559.83 L752.53 559.04 L753.13 558.25 L753.73 557.46 L754.34 556.66 L754.94 555.86 L755.54 555.06 L756.14 554.25 L756.75 553.44 L757.35 552.62 L757.95 551.80 L758.55 550.98 L759.16 550.15 L759.76 549.32 L760.36 548.48 L760.96 547.65 L761.57 546.80 L762.17 545.96 L762.77 545.11 L763.37 544.25 L763.98 543.39 L764.58 542.53 L765.18 541.67 L765.79 540.80 L766.39 539.92 L766.99 539.04 L767.59 538.16 L768.20 537.28 L768.80 536.39 L769.40 535.50 L770.00 534.60 L770.61 533.70 L771.21 532.79 L771.81 531.89 L772.41 530.97 L773.02 530.06 L773.62 529.14 L774.22 528.21 L774.82 527.28 L775.43 526.35 L776.03 525.42 L776.63 524.48 L777.23 523.54 L777.84 522.59 L778.44 521.64 L779.04 520.68 L779.65 519.73 L780.25 518.77 L780.85 517.80 L781.45 516.84 L782.06 515.87 L782.66 514.89 L783.26 513.92 L783.86 512.94 L784.47 511.95 L785.07 510.97 L785.67 509.98 L786.27 508.99 L786.88 508.00 L787.48 507.00 L788.08 506.00 L788.68 505.00 L789.29 503.99 L789.89 502.99 L790.49 501.98 L791.09 500.97 L791.70 499.95 L792.30 498.94 L792.90 497.92 L793.51 496.90 L794.11 495.88 L794.71 494.86 L795.31 493.83 L795.92 492.80 L796.52 491.77 L797.12 490.74 L797.72 489.71 L798.33 488.68 L798.93 487.64 L799.53 486.60 L800.13 485.57 L800.74 484.53 L801.34 483.48 L801.94 482.44 L802.54 481.40 L803.15 480.35 L803.75 479.31 L804.35 478.26 L804.96 477.21 L805.56 476.16 L806.16 475.11 L806.76 474.06 L807.37 473.01 L807.97 471.96 L808.57 470.91 L809.17 469.86 L809.78 468.80 L810.38 467.75 L810.98 466.70 L811.58 465.64 L812.19 464.59 L812.79 463.53 L813.39 462.48 L813.99 461.43 L814.60 460.37 L815.20 459.32 L815.80 458.26 L816.40 457.21 L817.01 456.15 L817.61 455.10 L818.21 454.05 L818.82 452.99 L819.42 451.94 L820.02 450.89 L820.62 449.84 L821.23 448.79 L821.83 447.74 L822.43 446.69 L823.03 445.64 L823.64 444.59 L824.24 443.55 L824.84 442.50 L825.44 441.46 L826.05 440.42 L826.65 439.37 L827.25 438.33 L827.85 437.29 L828.46 436.26 L829.06 435.22 L829.66 434.19 L830.26 433.15 L830.87 432.12 L831.47 431.09 L832.07 430.06 L832.68 429.04 L833.28 428.01 L833.88 426.99 L834.48 425.97 L835.09 424.95 L835.69 423.93 L836.29 422.92 L836.89 421.91 L837.50 420.90 L838.10 419.89 L838.70 418.89 L839.30 417.88 L839.91 416.88 L840.51 415.89 L841.11 414.89 L841.71 413.90 L842.32 412.91 L842.92 411.92 L843.52 410.94 L844.13 409.96 L844.73 408.98 L845.33 408.01 L845.93 407.03 L846.54 406.07 L847.14 405.10 L847.74 404.14 L848.34 403.18 L848.95 402.23 L849.55 401.27 L850.15 400.33 L850.75 399.38 L851.36 398.44 L851.96 397.50 L852.56 396.57 L853.16 395.64 L853.77 394.71 L854.37 393.79 L854.97 392.88 L855.57 391.96 L856.18 391.05 L856.78 390.15 L857.38 389.25 L857.99 388.35 L858.59 387.46 L859.19 386.57 L859.79 385.69 L860.40 384.81 L861.00 383.93 L861.60 383.06 L862.20 382.20 L862.81 381.34 L863.41 380.48 L864.01 379.63 L864.61 378.79 L865.22 377.95" stroke="#0000ff"/>
</g>
<g stroke="#000" stroke-width="5.2" fill="none"><rect x="159.70" y="1.30" width="1104.40" height="774.30" fill="none" stroke="#000" stroke-width="5.2"/><path d="M177.40 775.60 V753.60 M177.40 1.30 V23.80"/><path d="M267.85 775.60 V764.60 M267.85 1.30 V12.80"/><path d="M358.30 775.60 V753.60 M358.30 1.30 V23.80"/><path d="M448.75 775.60 V764.60 M448.75 1.30 V12.80"/><path d="M539.20 775.60 V753.60 M539.20 1.30 V23.80"/><path d="M629.65 775.60 V764.60 M629.65 1.30 V12.80"/><path d="M720.10 775.60 V753.60 M720.10 1.30 V23.80"/><path d="M810.55 775.60 V764.60 M810.55 1.30 V12.80"/><path d="M901.00 775.60 V753.60 M901.00 1.30 V23.80"/><path d="M991.45 775.60 V764.60 M991.45 1.30 V12.80"/><path d="M1081.90 775.60 V753.60 M1081.90 1.30 V23.80"/><path d="M1172.35 775.60 V764.60 M1172.35 1.30 V12.80"/><path d="M1262.80 775.60 V753.60 M1262.80 1.30 V23.80"/><path d="M159.70 740.30 H181.70 M1264.10 740.30 H1242.10"/><path d="M159.70 670.02 H170.70 M1264.10 670.02 H1253.10"/><path d="M159.70 599.74 H181.70 M1264.10 599.74 H1242.10"/><path d="M159.70 529.46 H170.70 M1264.10 529.46 H1253.10"/><path d="M159.70 459.18 H181.70 M1264.10 459.18 H1242.10"/><path d="M159.70 388.90 H170.70 M1264.10 388.90 H1253.10"/><path d="M159.70 318.62 H181.70 M1264.10 318.62 H1242.10"/><path d="M159.70 248.34 H170.70 M1264.10 248.34 H1253.10"/><path d="M159.70 178.06 H181.70 M1264.10 178.06 H1242.10"/><path d="M159.70 107.78 H170.70 M1264.10 107.78 H1253.10"/><path d="M159.70 37.50 H181.70 M1264.10 37.50 H1242.10"/></g>
<g stroke="#000" stroke-width="3.8" fill="none"><rect x="469.20" y="278.20" width="552.00" height="387.00" fill="none" stroke="#000" stroke-width="3.8" stroke-linejoin="round"/><path d="M477.55 665.20 V654.60 M477.55 278.20 V288.80"/><path d="M485.61 665.20 V654.60 M485.61 278.20 V288.80"/><path d="M492.59 665.20 V654.60 M492.59 278.20 V288.80"/><path d="M498.74 665.20 V654.60 M498.74 278.20 V288.80"/><path d="M504.25 665.20 V643.40 M504.25 278.20 V300.00"/><path d="M540.48 665.20 V654.60 M540.48 278.20 V288.80"/><path d="M561.67 665.20 V654.60 M561.67 278.20 V288.80"/><path d="M576.71 665.20 V654.60 M576.71 278.20 V288.80"/><path d="M588.37 665.20 V654.60 M588.37 278.20 V288.80"/><path d="M597.90 665.20 V654.60 M597.90 278.20 V288.80"/><path d="M605.96 665.20 V654.60 M605.96 278.20 V288.80"/><path d="M612.94 665.20 V654.60 M612.94 278.20 V288.80"/><path d="M619.09 665.20 V654.60 M619.09 278.20 V288.80"/><path d="M624.60 665.20 V643.40 M624.60 278.20 V300.00"/><path d="M660.83 665.20 V654.60 M660.83 278.20 V288.80"/><path d="M682.02 665.20 V654.60 M682.02 278.20 V288.80"/><path d="M697.06 665.20 V654.60 M697.06 278.20 V288.80"/><path d="M708.72 665.20 V654.60 M708.72 278.20 V288.80"/><path d="M718.25 665.20 V654.60 M718.25 278.20 V288.80"/><path d="M726.31 665.20 V654.60 M726.31 278.20 V288.80"/><path d="M733.29 665.20 V654.60 M733.29 278.20 V288.80"/><path d="M739.44 665.20 V654.60 M739.44 278.20 V288.80"/><path d="M744.95 665.20 V643.40 M744.95 278.20 V300.00"/><path d="M781.18 665.20 V654.60 M781.18 278.20 V288.80"/><path d="M802.37 665.20 V654.60 M802.37 278.20 V288.80"/><path d="M817.41 665.20 V654.60 M817.41 278.20 V288.80"/><path d="M829.07 665.20 V654.60 M829.07 278.20 V288.80"/><path d="M838.60 665.20 V654.60 M838.60 278.20 V288.80"/><path d="M846.66 665.20 V654.60 M846.66 278.20 V288.80"/><path d="M853.64 665.20 V654.60 M853.64 278.20 V288.80"/><path d="M859.79 665.20 V654.60 M859.79 278.20 V288.80"/><path d="M865.30 665.20 V643.40 M865.30 278.20 V300.00"/><path d="M901.53 665.20 V654.60 M901.53 278.20 V288.80"/><path d="M922.72 665.20 V654.60 M922.72 278.20 V288.80"/><path d="M937.76 665.20 V654.60 M937.76 278.20 V288.80"/><path d="M949.42 665.20 V654.60 M949.42 278.20 V288.80"/><path d="M958.95 665.20 V654.60 M958.95 278.20 V288.80"/><path d="M967.01 665.20 V654.60 M967.01 278.20 V288.80"/><path d="M973.99 665.20 V654.60 M973.99 278.20 V288.80"/><path d="M980.14 665.20 V654.60 M980.14 278.20 V288.80"/><path d="M985.65 665.20 V643.40 M985.65 278.20 V300.00"/><path d="M469.20 647.80 H491.00 M1021.20 647.80 H999.40"/><path d="M469.20 612.60 H479.80 M1021.20 612.60 H1010.60"/><path d="M469.20 577.40 H491.00 M1021.20 577.40 H999.40"/><path d="M469.20 542.20 H479.80 M1021.20 542.20 H1010.60"/><path d="M469.20 507.00 H491.00 M1021.20 507.00 H999.40"/><path d="M469.20 471.80 H479.80 M1021.20 471.80 H1010.60"/><path d="M469.20 436.60 H491.00 M1021.20 436.60 H999.40"/><path d="M469.20 401.40 H479.80 M1021.20 401.40 H1010.60"/><path d="M469.20 366.20 H491.00 M1021.20 366.20 H999.40"/><path d="M469.20 331.00 H479.80 M1021.20 331.00 H1010.60"/><path d="M469.20 295.80 H491.00 M1021.20 295.80 H999.40"/></g>
<g font-family="&quot;Liberation Serif&quot;, &quot;DejaVu Serif&quot;, serif" fill="#000">
<text transform="translate(150.70,761.70) scale(1.000,1.045)" font-size="62.8" text-anchor="end">0.0</text>
<text transform="translate(150.70,621.14) scale(1.000,1.045)" font-size="62.8" text-anchor="end">0.2</text>
<text transform="translate(150.70,480.58) scale(1.000,1.045)" font-size="62.8" text-anchor="end">0.4</text>
<text transform="translate(150.70,340.02) scale(1.000,1.045)" font-size="62.8" text-anchor="end">0.6</text>
<text transform="translate(150.70,199.46) scale(1.000,1.045)" font-size="62.8" text-anchor="end">0.8</text>
<text transform="translate(150.70,58.90) scale(1.000,1.045)" font-size="62.8" text-anchor="end">1.0</text>
<text transform="translate(178.00,829.30) scale(1.000,1.045)" font-size="62.8" text-anchor="middle">0.0</text>
<text transform="translate(358.90,829.30) scale(1.000,1.045)" font-size="62.8" text-anchor="middle">0.1</text>
<text transform="translate(539.80,829.30) scale(1.000,1.045)" font-size="62.8" text-anchor="middle">0.2</text>
<text transform="translate(720.70,829.30) scale(1.000,1.045)" font-size="62.8" text-anchor="middle">0.3</text>
<text transform="translate(901.60,829.30) scale(1.000,1.045)" font-size="62.8" text-anchor="middle">0.4</text>
<text transform="translate(1082.50,829.30) scale(1.000,1.045)" font-size="62.8" text-anchor="middle">0.5</text>
<text transform="translate(1263.40,829.30) scale(1.000,1.045)" font-size="62.8" text-anchor="middle">0.6</text>
<text transform="translate(474.45,726.40) scale(1.000,1.045)" font-size="47.1" text-anchor="start">10<tspan font-size="32.6" dy="-26.1" dx="-0.9">0</tspan></text>
<text transform="translate(594.80,726.40) scale(1.000,1.045)" font-size="47.1" text-anchor="start">10<tspan font-size="32.6" dy="-26.1" dx="-0.9">1</tspan></text>
<text transform="translate(715.15,726.40) scale(1.000,1.045)" font-size="47.1" text-anchor="start">10<tspan font-size="32.6" dy="-26.1" dx="-0.9">2</tspan></text>
<text transform="translate(835.50,726.40) scale(1.000,1.045)" font-size="47.1" text-anchor="start">10<tspan font-size="32.6" dy="-26.1" dx="-0.9">3</tspan></text>
<text transform="translate(955.85,726.40) scale(1.000,1.045)" font-size="47.1" text-anchor="start">10<tspan font-size="32.6" dy="-26.1" dx="-0.9">4</tspan></text>
<text transform="translate(1120.00,386.60) scale(1.000,1.045)" font-size="62.8" text-anchor="start">20</text>
<text transform="translate(1120.00,441.00) scale(1.000,1.045)" font-size="62.8" text-anchor="start">50</text>
<text transform="translate(1120.00,495.10) scale(1.000,1.045)" font-size="62.8" text-anchor="start">100</text>
<text transform="translate(1120.00,549.50) scale(1.000,1.045)" font-size="62.8" text-anchor="start">200</text>
<text transform="translate(732.00,266.20) scale(1.250,1.000)" font-size="59.6" text-anchor="start">f</text>
</g>
<text transform="translate(681.7,888.6) scale(1.01,0.985)" font-size="91" font-family="&quot;DejaVu Serif&quot;, &quot;Liberation Serif&quot;, serif">α</text>
<text transform="translate(61.8,415.8) rotate(-90) scale(1.07,1.02)" font-size="94" font-family="&quot;Liberation Serif&quot;, &quot;DejaVu Serif&quot;, serif">P</text>
<circle cx="1076.4" cy="366.0" r="6.6" fill="#000"/>
<rect x="1070.79" y="414.69" width="11.22" height="11.22" fill="#ff0000"/>
<path d="M1069.40 474.60 L1076.40 467.80 L1083.40 474.60 L1076.40 481.40Z" fill="#670748"/>
<path d="M1076.40 520.72 L1069.40 532.84 L1083.40 532.84Z" fill="#0000ff"/>
</svg>
</body></html>
